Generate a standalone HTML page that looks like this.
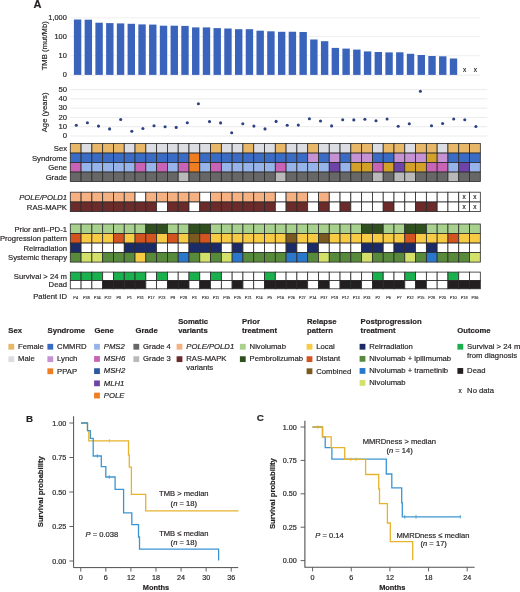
<!DOCTYPE html>
<html><head><meta charset="utf-8"><title>Figure</title>
<style>
html,body{margin:0;padding:0;background:#fff;}
body{width:520px;height:592px;overflow:hidden;}
svg{display:block;font-family:'Liberation Sans', Arial, sans-serif;}
text{stroke:#231f20;stroke-width:0.18px;paint-order:stroke;}
</style></head><body>
<svg width="520" height="592" viewBox="0 0 520 592">
<rect width="520" height="592" fill="#fff"/>
<text x="33.60" y="8.35" font-size="11" text-anchor="start" font-weight="bold" font-style="normal" fill="#231f20">A</text>
<rect x="70.3" y="17.30" width="410" height="1" fill="#efefef"/>
<rect x="70.3" y="36.10" width="410" height="1" fill="#efefef"/>
<rect x="70.3" y="55.20" width="410" height="1" fill="#efefef"/>
<rect x="70.3" y="74.7" width="410" height="1" fill="#ebebeb"/>
<text x="66.80" y="20.35" font-size="7.4" text-anchor="end" font-weight="normal" font-style="normal" fill="#231f20">1,000</text>
<text x="66.80" y="39.05" font-size="7.4" text-anchor="end" font-weight="normal" font-style="normal" fill="#231f20">100</text>
<text x="66.80" y="58.25" font-size="7.4" text-anchor="end" font-weight="normal" font-style="normal" fill="#231f20">10</text>
<text x="66.80" y="77.05" font-size="7.4" text-anchor="end" font-weight="normal" font-style="normal" fill="#231f20">0</text>
<text transform="translate(46.6,45.8) rotate(-90)" font-size="7.7" text-anchor="middle" fill="#231f20">TMB (mut/Mb)</text>
<rect x="73.90" y="19.50" width="7.4" height="55.40" fill="#3a63bc"/>
<rect x="84.64" y="19.70" width="7.4" height="55.20" fill="#3a63bc"/>
<rect x="95.38" y="22.70" width="7.4" height="52.20" fill="#3a63bc"/>
<rect x="106.12" y="23.10" width="7.4" height="51.80" fill="#3a63bc"/>
<rect x="116.86" y="23.40" width="7.4" height="51.50" fill="#3a63bc"/>
<rect x="127.60" y="23.80" width="7.4" height="51.10" fill="#3a63bc"/>
<rect x="138.34" y="24.40" width="7.4" height="50.50" fill="#3a63bc"/>
<rect x="149.08" y="24.60" width="7.4" height="50.30" fill="#3a63bc"/>
<rect x="159.82" y="25.70" width="7.4" height="49.20" fill="#3a63bc"/>
<rect x="170.56" y="25.70" width="7.4" height="49.20" fill="#3a63bc"/>
<rect x="181.30" y="25.90" width="7.4" height="49.00" fill="#3a63bc"/>
<rect x="192.04" y="27.40" width="7.4" height="47.50" fill="#3a63bc"/>
<rect x="202.78" y="27.40" width="7.4" height="47.50" fill="#3a63bc"/>
<rect x="213.52" y="28.10" width="7.4" height="46.80" fill="#3a63bc"/>
<rect x="224.26" y="28.50" width="7.4" height="46.40" fill="#3a63bc"/>
<rect x="235.00" y="29.20" width="7.4" height="45.70" fill="#3a63bc"/>
<rect x="245.74" y="29.20" width="7.4" height="45.70" fill="#3a63bc"/>
<rect x="256.48" y="30.70" width="7.4" height="44.20" fill="#3a63bc"/>
<rect x="267.22" y="31.30" width="7.4" height="43.60" fill="#3a63bc"/>
<rect x="277.96" y="31.80" width="7.4" height="43.10" fill="#3a63bc"/>
<rect x="288.70" y="31.75" width="7.4" height="43.15" fill="#3a63bc"/>
<rect x="299.44" y="32.00" width="7.4" height="42.90" fill="#3a63bc"/>
<rect x="310.18" y="39.50" width="7.4" height="35.40" fill="#3a63bc"/>
<rect x="320.92" y="41.20" width="7.4" height="33.70" fill="#3a63bc"/>
<rect x="331.66" y="47.90" width="7.4" height="27.00" fill="#3a63bc"/>
<rect x="342.40" y="48.60" width="7.4" height="26.30" fill="#3a63bc"/>
<rect x="353.14" y="49.60" width="7.4" height="25.30" fill="#3a63bc"/>
<rect x="363.88" y="51.40" width="7.4" height="23.50" fill="#3a63bc"/>
<rect x="374.62" y="52.00" width="7.4" height="22.90" fill="#3a63bc"/>
<rect x="385.36" y="52.40" width="7.4" height="22.50" fill="#3a63bc"/>
<rect x="396.10" y="52.30" width="7.4" height="22.60" fill="#3a63bc"/>
<rect x="406.84" y="53.80" width="7.4" height="21.10" fill="#3a63bc"/>
<rect x="417.58" y="55.00" width="7.4" height="19.90" fill="#3a63bc"/>
<rect x="428.32" y="56.00" width="7.4" height="18.90" fill="#3a63bc"/>
<rect x="439.06" y="56.30" width="7.4" height="18.60" fill="#3a63bc"/>
<rect x="449.80" y="58.50" width="7.4" height="16.40" fill="#3a63bc"/>
<text x="464.50" y="72.00" font-size="6.5" text-anchor="middle" font-weight="normal" font-style="normal" fill="#231f20">x</text>
<text x="475.30" y="72.00" font-size="6.5" text-anchor="middle" font-weight="normal" font-style="normal" fill="#231f20">x</text>
<rect x="70.3" y="135.50" width="417" height="1" fill="#ebebeb"/>
<text x="67.00" y="138.30" font-size="7.7" text-anchor="end" font-weight="normal" font-style="normal" fill="#231f20">0</text>
<rect x="70.3" y="126.22" width="417" height="1" fill="#ebebeb"/>
<text x="67.00" y="129.02" font-size="7.7" text-anchor="end" font-weight="normal" font-style="normal" fill="#231f20">10</text>
<rect x="70.3" y="116.94" width="417" height="1" fill="#ebebeb"/>
<text x="67.00" y="119.74" font-size="7.7" text-anchor="end" font-weight="normal" font-style="normal" fill="#231f20">20</text>
<rect x="70.3" y="107.66" width="417" height="1" fill="#ebebeb"/>
<text x="67.00" y="110.46" font-size="7.7" text-anchor="end" font-weight="normal" font-style="normal" fill="#231f20">30</text>
<rect x="70.3" y="98.38" width="417" height="1" fill="#ebebeb"/>
<text x="67.00" y="101.18" font-size="7.7" text-anchor="end" font-weight="normal" font-style="normal" fill="#231f20">40</text>
<rect x="70.3" y="89.10" width="417" height="1" fill="#ebebeb"/>
<text x="67.00" y="91.90" font-size="7.7" text-anchor="end" font-weight="normal" font-style="normal" fill="#231f20">50</text>
<text transform="translate(46.5,112.4) rotate(-90)" font-size="7.7" text-anchor="middle" fill="#231f20">Age (years)</text>
<circle cx="76.30" cy="125.30" r="1.55" fill="#2d4282"/>
<circle cx="87.40" cy="122.70" r="1.55" fill="#2d4282"/>
<circle cx="98.50" cy="126.10" r="1.55" fill="#2d4282"/>
<circle cx="109.60" cy="128.90" r="1.55" fill="#2d4282"/>
<circle cx="120.70" cy="119.50" r="1.55" fill="#2d4282"/>
<circle cx="131.80" cy="131.30" r="1.55" fill="#2d4282"/>
<circle cx="142.90" cy="128.50" r="1.55" fill="#2d4282"/>
<circle cx="154.00" cy="125.70" r="1.55" fill="#2d4282"/>
<circle cx="165.10" cy="126.80" r="1.55" fill="#2d4282"/>
<circle cx="176.20" cy="127.40" r="1.55" fill="#2d4282"/>
<circle cx="187.30" cy="122.70" r="1.55" fill="#2d4282"/>
<circle cx="198.40" cy="103.70" r="1.55" fill="#2d4282"/>
<circle cx="209.50" cy="121.60" r="1.55" fill="#2d4282"/>
<circle cx="220.60" cy="122.90" r="1.55" fill="#2d4282"/>
<circle cx="231.70" cy="132.80" r="1.55" fill="#2d4282"/>
<circle cx="242.80" cy="123.80" r="1.55" fill="#2d4282"/>
<circle cx="253.90" cy="126.10" r="1.55" fill="#2d4282"/>
<circle cx="265.00" cy="128.90" r="1.55" fill="#2d4282"/>
<circle cx="276.10" cy="121.40" r="1.55" fill="#2d4282"/>
<circle cx="287.20" cy="125.30" r="1.55" fill="#2d4282"/>
<circle cx="298.30" cy="125.10" r="1.55" fill="#2d4282"/>
<circle cx="309.40" cy="118.80" r="1.55" fill="#2d4282"/>
<circle cx="320.50" cy="121.00" r="1.55" fill="#2d4282"/>
<circle cx="331.60" cy="125.90" r="1.55" fill="#2d4282"/>
<circle cx="342.70" cy="119.70" r="1.55" fill="#2d4282"/>
<circle cx="353.80" cy="119.90" r="1.55" fill="#2d4282"/>
<circle cx="364.90" cy="119.20" r="1.55" fill="#2d4282"/>
<circle cx="376.00" cy="120.80" r="1.55" fill="#2d4282"/>
<circle cx="387.10" cy="119.00" r="1.55" fill="#2d4282"/>
<circle cx="398.20" cy="126.30" r="1.55" fill="#2d4282"/>
<circle cx="409.30" cy="123.80" r="1.55" fill="#2d4282"/>
<circle cx="420.40" cy="91.20" r="1.55" fill="#2d4282"/>
<circle cx="431.50" cy="125.80" r="1.55" fill="#2d4282"/>
<circle cx="442.60" cy="123.50" r="1.55" fill="#2d4282"/>
<circle cx="453.70" cy="119.00" r="1.55" fill="#2d4282"/>
<circle cx="464.80" cy="119.80" r="1.55" fill="#2d4282"/>
<circle cx="475.90" cy="126.50" r="1.55" fill="#2d4282"/>
<rect x="70.30" y="143.50" width="10.79" height="9.60" fill="#e8b868" stroke="#2a2a2a" stroke-width="0.8"/>
<rect x="81.09" y="143.50" width="10.79" height="9.60" fill="#dcdde2" stroke="#2a2a2a" stroke-width="0.8"/>
<rect x="91.88" y="143.50" width="10.79" height="9.60" fill="#e8b868" stroke="#2a2a2a" stroke-width="0.8"/>
<rect x="102.67" y="143.50" width="10.79" height="9.60" fill="#e8b868" stroke="#2a2a2a" stroke-width="0.8"/>
<rect x="113.46" y="143.50" width="10.79" height="9.60" fill="#e8b868" stroke="#2a2a2a" stroke-width="0.8"/>
<rect x="124.25" y="143.50" width="10.79" height="9.60" fill="#dcdde2" stroke="#2a2a2a" stroke-width="0.8"/>
<rect x="135.04" y="143.50" width="10.79" height="9.60" fill="#e8b868" stroke="#2a2a2a" stroke-width="0.8"/>
<rect x="145.83" y="143.50" width="10.79" height="9.60" fill="#dcdde2" stroke="#2a2a2a" stroke-width="0.8"/>
<rect x="156.62" y="143.50" width="10.79" height="9.60" fill="#dcdde2" stroke="#2a2a2a" stroke-width="0.8"/>
<rect x="167.41" y="143.50" width="10.79" height="9.60" fill="#dcdde2" stroke="#2a2a2a" stroke-width="0.8"/>
<rect x="178.20" y="143.50" width="10.79" height="9.60" fill="#dcdde2" stroke="#2a2a2a" stroke-width="0.8"/>
<rect x="188.99" y="143.50" width="10.79" height="9.60" fill="#dcdde2" stroke="#2a2a2a" stroke-width="0.8"/>
<rect x="199.78" y="143.50" width="10.79" height="9.60" fill="#dcdde2" stroke="#2a2a2a" stroke-width="0.8"/>
<rect x="210.57" y="143.50" width="10.79" height="9.60" fill="#e8b868" stroke="#2a2a2a" stroke-width="0.8"/>
<rect x="221.36" y="143.50" width="10.79" height="9.60" fill="#dcdde2" stroke="#2a2a2a" stroke-width="0.8"/>
<rect x="232.15" y="143.50" width="10.79" height="9.60" fill="#dcdde2" stroke="#2a2a2a" stroke-width="0.8"/>
<rect x="242.94" y="143.50" width="10.79" height="9.60" fill="#e8b868" stroke="#2a2a2a" stroke-width="0.8"/>
<rect x="253.73" y="143.50" width="10.79" height="9.60" fill="#dcdde2" stroke="#2a2a2a" stroke-width="0.8"/>
<rect x="264.52" y="143.50" width="10.79" height="9.60" fill="#dcdde2" stroke="#2a2a2a" stroke-width="0.8"/>
<rect x="275.31" y="143.50" width="10.79" height="9.60" fill="#e8b868" stroke="#2a2a2a" stroke-width="0.8"/>
<rect x="286.10" y="143.50" width="10.79" height="9.60" fill="#dcdde2" stroke="#2a2a2a" stroke-width="0.8"/>
<rect x="296.89" y="143.50" width="10.79" height="9.60" fill="#dcdde2" stroke="#2a2a2a" stroke-width="0.8"/>
<rect x="307.68" y="143.50" width="10.79" height="9.60" fill="#e8b868" stroke="#2a2a2a" stroke-width="0.8"/>
<rect x="318.47" y="143.50" width="10.79" height="9.60" fill="#dcdde2" stroke="#2a2a2a" stroke-width="0.8"/>
<rect x="329.26" y="143.50" width="10.79" height="9.60" fill="#dcdde2" stroke="#2a2a2a" stroke-width="0.8"/>
<rect x="340.05" y="143.50" width="10.79" height="9.60" fill="#dcdde2" stroke="#2a2a2a" stroke-width="0.8"/>
<rect x="350.84" y="143.50" width="10.79" height="9.60" fill="#e8b868" stroke="#2a2a2a" stroke-width="0.8"/>
<rect x="361.63" y="143.50" width="10.79" height="9.60" fill="#e8b868" stroke="#2a2a2a" stroke-width="0.8"/>
<rect x="372.42" y="143.50" width="10.79" height="9.60" fill="#dcdde2" stroke="#2a2a2a" stroke-width="0.8"/>
<rect x="383.21" y="143.50" width="10.79" height="9.60" fill="#e8b868" stroke="#2a2a2a" stroke-width="0.8"/>
<rect x="394.00" y="143.50" width="10.79" height="9.60" fill="#e8b868" stroke="#2a2a2a" stroke-width="0.8"/>
<rect x="404.79" y="143.50" width="10.79" height="9.60" fill="#dcdde2" stroke="#2a2a2a" stroke-width="0.8"/>
<rect x="415.58" y="143.50" width="10.79" height="9.60" fill="#e8b868" stroke="#2a2a2a" stroke-width="0.8"/>
<rect x="426.37" y="143.50" width="10.79" height="9.60" fill="#e8b868" stroke="#2a2a2a" stroke-width="0.8"/>
<rect x="437.16" y="143.50" width="10.79" height="9.60" fill="#dcdde2" stroke="#2a2a2a" stroke-width="0.8"/>
<rect x="447.95" y="143.50" width="10.79" height="9.60" fill="#e8b868" stroke="#2a2a2a" stroke-width="0.8"/>
<rect x="458.74" y="143.50" width="10.79" height="9.60" fill="#e8b868" stroke="#2a2a2a" stroke-width="0.8"/>
<rect x="469.53" y="143.50" width="10.79" height="9.60" fill="#e8b868" stroke="#2a2a2a" stroke-width="0.8"/>
<text x="67.00" y="151.05" font-size="7.7" text-anchor="end" font-weight="normal" font-style="normal" fill="#231f20">Sex</text>
<rect x="70.30" y="153.10" width="10.79" height="9.40" fill="#3b6cc5" stroke="#2a2a2a" stroke-width="0.8"/>
<rect x="81.09" y="153.10" width="10.79" height="9.40" fill="#3b6cc5" stroke="#2a2a2a" stroke-width="0.8"/>
<rect x="91.88" y="153.10" width="10.79" height="9.40" fill="#3b6cc5" stroke="#2a2a2a" stroke-width="0.8"/>
<rect x="102.67" y="153.10" width="10.79" height="9.40" fill="#3b6cc5" stroke="#2a2a2a" stroke-width="0.8"/>
<rect x="113.46" y="153.10" width="10.79" height="9.40" fill="#3b6cc5" stroke="#2a2a2a" stroke-width="0.8"/>
<rect x="124.25" y="153.10" width="10.79" height="9.40" fill="#3b6cc5" stroke="#2a2a2a" stroke-width="0.8"/>
<rect x="135.04" y="153.10" width="10.79" height="9.40" fill="#3b6cc5" stroke="#2a2a2a" stroke-width="0.8"/>
<rect x="145.83" y="153.10" width="10.79" height="9.40" fill="#3b6cc5" stroke="#2a2a2a" stroke-width="0.8"/>
<rect x="156.62" y="153.10" width="10.79" height="9.40" fill="#3b6cc5" stroke="#2a2a2a" stroke-width="0.8"/>
<rect x="167.41" y="153.10" width="10.79" height="9.40" fill="#3b6cc5" stroke="#2a2a2a" stroke-width="0.8"/>
<rect x="178.20" y="153.10" width="10.79" height="9.40" fill="#3b6cc5" stroke="#2a2a2a" stroke-width="0.8"/>
<rect x="188.99" y="153.10" width="10.79" height="9.40" fill="#ef7e22" stroke="#2a2a2a" stroke-width="0.8"/>
<rect x="199.78" y="153.10" width="10.79" height="9.40" fill="#3b6cc5" stroke="#2a2a2a" stroke-width="0.8"/>
<rect x="210.57" y="153.10" width="10.79" height="9.40" fill="#3b6cc5" stroke="#2a2a2a" stroke-width="0.8"/>
<rect x="221.36" y="153.10" width="10.79" height="9.40" fill="#3b6cc5" stroke="#2a2a2a" stroke-width="0.8"/>
<rect x="232.15" y="153.10" width="10.79" height="9.40" fill="#3b6cc5" stroke="#2a2a2a" stroke-width="0.8"/>
<rect x="242.94" y="153.10" width="10.79" height="9.40" fill="#3b6cc5" stroke="#2a2a2a" stroke-width="0.8"/>
<rect x="253.73" y="153.10" width="10.79" height="9.40" fill="#3b6cc5" stroke="#2a2a2a" stroke-width="0.8"/>
<rect x="264.52" y="153.10" width="10.79" height="9.40" fill="#3b6cc5" stroke="#2a2a2a" stroke-width="0.8"/>
<rect x="275.31" y="153.10" width="10.79" height="9.40" fill="#3b6cc5" stroke="#2a2a2a" stroke-width="0.8"/>
<rect x="286.10" y="153.10" width="10.79" height="9.40" fill="#3b6cc5" stroke="#2a2a2a" stroke-width="0.8"/>
<rect x="296.89" y="153.10" width="10.79" height="9.40" fill="#3b6cc5" stroke="#2a2a2a" stroke-width="0.8"/>
<rect x="307.68" y="153.10" width="10.79" height="9.40" fill="#c592d4" stroke="#2a2a2a" stroke-width="0.8"/>
<rect x="318.47" y="153.10" width="10.79" height="9.40" fill="#3b6cc5" stroke="#2a2a2a" stroke-width="0.8"/>
<rect x="329.26" y="153.10" width="10.79" height="9.40" fill="#c592d4" stroke="#2a2a2a" stroke-width="0.8"/>
<rect x="340.05" y="153.10" width="10.79" height="9.40" fill="#3b6cc5" stroke="#2a2a2a" stroke-width="0.8"/>
<rect x="350.84" y="153.10" width="10.79" height="9.40" fill="#c592d4" stroke="#2a2a2a" stroke-width="0.8"/>
<rect x="361.63" y="153.10" width="10.79" height="9.40" fill="#c592d4" stroke="#2a2a2a" stroke-width="0.8"/>
<rect x="372.42" y="153.10" width="10.79" height="9.40" fill="#3b6cc5" stroke="#2a2a2a" stroke-width="0.8"/>
<rect x="383.21" y="153.10" width="10.79" height="9.40" fill="#3b6cc5" stroke="#2a2a2a" stroke-width="0.8"/>
<rect x="394.00" y="153.10" width="10.79" height="9.40" fill="#c592d4" stroke="#2a2a2a" stroke-width="0.8"/>
<rect x="404.79" y="153.10" width="10.79" height="9.40" fill="#c592d4" stroke="#2a2a2a" stroke-width="0.8"/>
<rect x="415.58" y="153.10" width="10.79" height="9.40" fill="#c592d4" stroke="#2a2a2a" stroke-width="0.8"/>
<rect x="426.37" y="153.10" width="10.79" height="9.40" fill="#d3a02a" stroke="#2a2a2a" stroke-width="0.8"/>
<rect x="437.16" y="153.10" width="10.79" height="9.40" fill="#c592d4" stroke="#2a2a2a" stroke-width="0.8"/>
<rect x="447.95" y="153.10" width="10.79" height="9.40" fill="#3b6cc5" stroke="#2a2a2a" stroke-width="0.8"/>
<rect x="458.74" y="153.10" width="10.79" height="9.40" fill="#3b6cc5" stroke="#2a2a2a" stroke-width="0.8"/>
<rect x="469.53" y="153.10" width="10.79" height="9.40" fill="#3b6cc5" stroke="#2a2a2a" stroke-width="0.8"/>
<text x="67.00" y="160.55" font-size="7.7" text-anchor="end" font-weight="normal" font-style="normal" fill="#231f20">Syndrome</text>
<rect x="70.30" y="162.50" width="10.79" height="9.60" fill="#c863b6" stroke="#2a2a2a" stroke-width="0.8"/>
<rect x="81.09" y="162.50" width="10.79" height="9.60" fill="#97b4ea" stroke="#2a2a2a" stroke-width="0.8"/>
<rect x="91.88" y="162.50" width="10.79" height="9.60" fill="#97b4ea" stroke="#2a2a2a" stroke-width="0.8"/>
<rect x="102.67" y="162.50" width="10.79" height="9.60" fill="#97b4ea" stroke="#2a2a2a" stroke-width="0.8"/>
<rect x="113.46" y="162.50" width="10.79" height="9.60" fill="#97b4ea" stroke="#2a2a2a" stroke-width="0.8"/>
<rect x="124.25" y="162.50" width="10.79" height="9.60" fill="#97b4ea" stroke="#2a2a2a" stroke-width="0.8"/>
<rect x="135.04" y="162.50" width="10.79" height="9.60" fill="#c863b6" stroke="#2a2a2a" stroke-width="0.8"/>
<rect x="145.83" y="162.50" width="10.79" height="9.60" fill="#97b4ea" stroke="#2a2a2a" stroke-width="0.8"/>
<rect x="156.62" y="162.50" width="10.79" height="9.60" fill="#c863b6" stroke="#2a2a2a" stroke-width="0.8"/>
<rect x="167.41" y="162.50" width="10.79" height="9.60" fill="#97b4ea" stroke="#2a2a2a" stroke-width="0.8"/>
<rect x="178.20" y="162.50" width="10.79" height="9.60" fill="#c863b6" stroke="#2a2a2a" stroke-width="0.8"/>
<rect x="188.99" y="162.50" width="10.79" height="9.60" fill="#ef7e22" stroke="#2a2a2a" stroke-width="0.8"/>
<rect x="199.78" y="162.50" width="10.79" height="9.60" fill="#97b4ea" stroke="#2a2a2a" stroke-width="0.8"/>
<rect x="210.57" y="162.50" width="10.79" height="9.60" fill="#c863b6" stroke="#2a2a2a" stroke-width="0.8"/>
<rect x="221.36" y="162.50" width="10.79" height="9.60" fill="#97b4ea" stroke="#2a2a2a" stroke-width="0.8"/>
<rect x="232.15" y="162.50" width="10.79" height="9.60" fill="#97b4ea" stroke="#2a2a2a" stroke-width="0.8"/>
<rect x="242.94" y="162.50" width="10.79" height="9.60" fill="#97b4ea" stroke="#2a2a2a" stroke-width="0.8"/>
<rect x="253.73" y="162.50" width="10.79" height="9.60" fill="#97b4ea" stroke="#2a2a2a" stroke-width="0.8"/>
<rect x="264.52" y="162.50" width="10.79" height="9.60" fill="#97b4ea" stroke="#2a2a2a" stroke-width="0.8"/>
<rect x="275.31" y="162.50" width="10.79" height="9.60" fill="#c863b6" stroke="#2a2a2a" stroke-width="0.8"/>
<rect x="286.10" y="162.50" width="10.79" height="9.60" fill="#97b4ea" stroke="#2a2a2a" stroke-width="0.8"/>
<rect x="296.89" y="162.50" width="10.79" height="9.60" fill="#97b4ea" stroke="#2a2a2a" stroke-width="0.8"/>
<rect x="307.68" y="162.50" width="10.79" height="9.60" fill="#97b4ea" stroke="#2a2a2a" stroke-width="0.8"/>
<rect x="318.47" y="162.50" width="10.79" height="9.60" fill="#97b4ea" stroke="#2a2a2a" stroke-width="0.8"/>
<rect x="329.26" y="162.50" width="10.79" height="9.60" fill="#6f44a8" stroke="#2a2a2a" stroke-width="0.8"/>
<rect x="340.05" y="162.50" width="10.79" height="9.60" fill="#97b4ea" stroke="#2a2a2a" stroke-width="0.8"/>
<rect x="350.84" y="162.50" width="10.79" height="9.60" fill="#d3a02a" stroke="#2a2a2a" stroke-width="0.8"/>
<rect x="361.63" y="162.50" width="10.79" height="9.60" fill="#d3a02a" stroke="#2a2a2a" stroke-width="0.8"/>
<rect x="372.42" y="162.50" width="10.79" height="9.60" fill="#c863b6" stroke="#2a2a2a" stroke-width="0.8"/>
<rect x="383.21" y="162.50" width="10.79" height="9.60" fill="#d3a02a" stroke="#2a2a2a" stroke-width="0.8"/>
<rect x="394.00" y="162.50" width="10.79" height="9.60" fill="#6f44a8" stroke="#2a2a2a" stroke-width="0.8"/>
<rect x="404.79" y="162.50" width="10.79" height="9.60" fill="#d3a02a" stroke="#2a2a2a" stroke-width="0.8"/>
<rect x="415.58" y="162.50" width="10.79" height="9.60" fill="#d3a02a" stroke="#2a2a2a" stroke-width="0.8"/>
<rect x="426.37" y="162.50" width="10.79" height="9.60" fill="#c863b6" stroke="#2a2a2a" stroke-width="0.8"/>
<rect x="437.16" y="162.50" width="10.79" height="9.60" fill="#c863b6" stroke="#2a2a2a" stroke-width="0.8"/>
<rect x="447.95" y="162.50" width="10.79" height="9.60" fill="#97b4ea" stroke="#2a2a2a" stroke-width="0.8"/>
<rect x="458.74" y="162.50" width="10.79" height="9.60" fill="#6f44a8" stroke="#2a2a2a" stroke-width="0.8"/>
<rect x="469.53" y="162.50" width="10.79" height="9.60" fill="#97b4ea" stroke="#2a2a2a" stroke-width="0.8"/>
<text x="67.00" y="170.05" font-size="7.7" text-anchor="end" font-weight="normal" font-style="normal" fill="#231f20">Gene</text>
<rect x="70.30" y="172.10" width="10.79" height="9.40" fill="#676767" stroke="#2a2a2a" stroke-width="0.8"/>
<rect x="81.09" y="172.10" width="10.79" height="9.40" fill="#676767" stroke="#2a2a2a" stroke-width="0.8"/>
<rect x="91.88" y="172.10" width="10.79" height="9.40" fill="#676767" stroke="#2a2a2a" stroke-width="0.8"/>
<rect x="102.67" y="172.10" width="10.79" height="9.40" fill="#676767" stroke="#2a2a2a" stroke-width="0.8"/>
<rect x="113.46" y="172.10" width="10.79" height="9.40" fill="#676767" stroke="#2a2a2a" stroke-width="0.8"/>
<rect x="124.25" y="172.10" width="10.79" height="9.40" fill="#676767" stroke="#2a2a2a" stroke-width="0.8"/>
<rect x="135.04" y="172.10" width="10.79" height="9.40" fill="#676767" stroke="#2a2a2a" stroke-width="0.8"/>
<rect x="145.83" y="172.10" width="10.79" height="9.40" fill="#676767" stroke="#2a2a2a" stroke-width="0.8"/>
<rect x="156.62" y="172.10" width="10.79" height="9.40" fill="#676767" stroke="#2a2a2a" stroke-width="0.8"/>
<rect x="167.41" y="172.10" width="10.79" height="9.40" fill="#676767" stroke="#2a2a2a" stroke-width="0.8"/>
<rect x="178.20" y="172.10" width="10.79" height="9.40" fill="#b9b9b9" stroke="#2a2a2a" stroke-width="0.8"/>
<rect x="188.99" y="172.10" width="10.79" height="9.40" fill="#676767" stroke="#2a2a2a" stroke-width="0.8"/>
<rect x="199.78" y="172.10" width="10.79" height="9.40" fill="#676767" stroke="#2a2a2a" stroke-width="0.8"/>
<rect x="210.57" y="172.10" width="10.79" height="9.40" fill="#676767" stroke="#2a2a2a" stroke-width="0.8"/>
<rect x="221.36" y="172.10" width="10.79" height="9.40" fill="#676767" stroke="#2a2a2a" stroke-width="0.8"/>
<rect x="232.15" y="172.10" width="10.79" height="9.40" fill="#676767" stroke="#2a2a2a" stroke-width="0.8"/>
<rect x="242.94" y="172.10" width="10.79" height="9.40" fill="#676767" stroke="#2a2a2a" stroke-width="0.8"/>
<rect x="253.73" y="172.10" width="10.79" height="9.40" fill="#676767" stroke="#2a2a2a" stroke-width="0.8"/>
<rect x="264.52" y="172.10" width="10.79" height="9.40" fill="#676767" stroke="#2a2a2a" stroke-width="0.8"/>
<rect x="275.31" y="172.10" width="10.79" height="9.40" fill="#b9b9b9" stroke="#2a2a2a" stroke-width="0.8"/>
<rect x="286.10" y="172.10" width="10.79" height="9.40" fill="#676767" stroke="#2a2a2a" stroke-width="0.8"/>
<rect x="296.89" y="172.10" width="10.79" height="9.40" fill="#676767" stroke="#2a2a2a" stroke-width="0.8"/>
<rect x="307.68" y="172.10" width="10.79" height="9.40" fill="#676767" stroke="#2a2a2a" stroke-width="0.8"/>
<rect x="318.47" y="172.10" width="10.79" height="9.40" fill="#676767" stroke="#2a2a2a" stroke-width="0.8"/>
<rect x="329.26" y="172.10" width="10.79" height="9.40" fill="#676767" stroke="#2a2a2a" stroke-width="0.8"/>
<rect x="340.05" y="172.10" width="10.79" height="9.40" fill="#676767" stroke="#2a2a2a" stroke-width="0.8"/>
<rect x="350.84" y="172.10" width="10.79" height="9.40" fill="#676767" stroke="#2a2a2a" stroke-width="0.8"/>
<rect x="361.63" y="172.10" width="10.79" height="9.40" fill="#676767" stroke="#2a2a2a" stroke-width="0.8"/>
<rect x="372.42" y="172.10" width="10.79" height="9.40" fill="#b9b9b9" stroke="#2a2a2a" stroke-width="0.8"/>
<rect x="383.21" y="172.10" width="10.79" height="9.40" fill="#676767" stroke="#2a2a2a" stroke-width="0.8"/>
<rect x="394.00" y="172.10" width="10.79" height="9.40" fill="#b9b9b9" stroke="#2a2a2a" stroke-width="0.8"/>
<rect x="404.79" y="172.10" width="10.79" height="9.40" fill="#b9b9b9" stroke="#2a2a2a" stroke-width="0.8"/>
<rect x="415.58" y="172.10" width="10.79" height="9.40" fill="#676767" stroke="#2a2a2a" stroke-width="0.8"/>
<rect x="426.37" y="172.10" width="10.79" height="9.40" fill="#676767" stroke="#2a2a2a" stroke-width="0.8"/>
<rect x="437.16" y="172.10" width="10.79" height="9.40" fill="#676767" stroke="#2a2a2a" stroke-width="0.8"/>
<rect x="447.95" y="172.10" width="10.79" height="9.40" fill="#b9b9b9" stroke="#2a2a2a" stroke-width="0.8"/>
<rect x="458.74" y="172.10" width="10.79" height="9.40" fill="#676767" stroke="#2a2a2a" stroke-width="0.8"/>
<rect x="469.53" y="172.10" width="10.79" height="9.40" fill="#676767" stroke="#2a2a2a" stroke-width="0.8"/>
<text x="67.00" y="179.55" font-size="7.7" text-anchor="end" font-weight="normal" font-style="normal" fill="#231f20">Grade</text>
<rect x="70.30" y="192.20" width="10.79" height="9.80" fill="#f6b183" stroke="#2a2a2a" stroke-width="0.8"/>
<rect x="81.09" y="192.20" width="10.79" height="9.80" fill="#f6b183" stroke="#2a2a2a" stroke-width="0.8"/>
<rect x="91.88" y="192.20" width="10.79" height="9.80" fill="#f6b183" stroke="#2a2a2a" stroke-width="0.8"/>
<rect x="102.67" y="192.20" width="10.79" height="9.80" fill="#f6b183" stroke="#2a2a2a" stroke-width="0.8"/>
<rect x="113.46" y="192.20" width="10.79" height="9.80" fill="#f6b183" stroke="#2a2a2a" stroke-width="0.8"/>
<rect x="124.25" y="192.20" width="10.79" height="9.80" fill="#f6b183" stroke="#2a2a2a" stroke-width="0.8"/>
<rect x="135.04" y="192.20" width="10.79" height="9.80" fill="#ffffff" stroke="#2a2a2a" stroke-width="0.8"/>
<rect x="145.83" y="192.20" width="10.79" height="9.80" fill="#f6b183" stroke="#2a2a2a" stroke-width="0.8"/>
<rect x="156.62" y="192.20" width="10.79" height="9.80" fill="#f6b183" stroke="#2a2a2a" stroke-width="0.8"/>
<rect x="167.41" y="192.20" width="10.79" height="9.80" fill="#f6b183" stroke="#2a2a2a" stroke-width="0.8"/>
<rect x="178.20" y="192.20" width="10.79" height="9.80" fill="#f6b183" stroke="#2a2a2a" stroke-width="0.8"/>
<rect x="188.99" y="192.20" width="10.79" height="9.80" fill="#f6b183" stroke="#2a2a2a" stroke-width="0.8"/>
<rect x="199.78" y="192.20" width="10.79" height="9.80" fill="#ffffff" stroke="#2a2a2a" stroke-width="0.8"/>
<rect x="210.57" y="192.20" width="10.79" height="9.80" fill="#f6b183" stroke="#2a2a2a" stroke-width="0.8"/>
<rect x="221.36" y="192.20" width="10.79" height="9.80" fill="#f6b183" stroke="#2a2a2a" stroke-width="0.8"/>
<rect x="232.15" y="192.20" width="10.79" height="9.80" fill="#f6b183" stroke="#2a2a2a" stroke-width="0.8"/>
<rect x="242.94" y="192.20" width="10.79" height="9.80" fill="#f6b183" stroke="#2a2a2a" stroke-width="0.8"/>
<rect x="253.73" y="192.20" width="10.79" height="9.80" fill="#f6b183" stroke="#2a2a2a" stroke-width="0.8"/>
<rect x="264.52" y="192.20" width="10.79" height="9.80" fill="#f6b183" stroke="#2a2a2a" stroke-width="0.8"/>
<rect x="275.31" y="192.20" width="10.79" height="9.80" fill="#ffffff" stroke="#2a2a2a" stroke-width="0.8"/>
<rect x="286.10" y="192.20" width="10.79" height="9.80" fill="#f6b183" stroke="#2a2a2a" stroke-width="0.8"/>
<rect x="296.89" y="192.20" width="10.79" height="9.80" fill="#f6b183" stroke="#2a2a2a" stroke-width="0.8"/>
<rect x="307.68" y="192.20" width="10.79" height="9.80" fill="#ffffff" stroke="#2a2a2a" stroke-width="0.8"/>
<rect x="318.47" y="192.20" width="10.79" height="9.80" fill="#f6b183" stroke="#2a2a2a" stroke-width="0.8"/>
<rect x="329.26" y="192.20" width="10.79" height="9.80" fill="#ffffff" stroke="#2a2a2a" stroke-width="0.8"/>
<rect x="340.05" y="192.20" width="10.79" height="9.80" fill="#ffffff" stroke="#2a2a2a" stroke-width="0.8"/>
<rect x="350.84" y="192.20" width="10.79" height="9.80" fill="#ffffff" stroke="#2a2a2a" stroke-width="0.8"/>
<rect x="361.63" y="192.20" width="10.79" height="9.80" fill="#ffffff" stroke="#2a2a2a" stroke-width="0.8"/>
<rect x="372.42" y="192.20" width="10.79" height="9.80" fill="#ffffff" stroke="#2a2a2a" stroke-width="0.8"/>
<rect x="383.21" y="192.20" width="10.79" height="9.80" fill="#ffffff" stroke="#2a2a2a" stroke-width="0.8"/>
<rect x="394.00" y="192.20" width="10.79" height="9.80" fill="#ffffff" stroke="#2a2a2a" stroke-width="0.8"/>
<rect x="404.79" y="192.20" width="10.79" height="9.80" fill="#ffffff" stroke="#2a2a2a" stroke-width="0.8"/>
<rect x="415.58" y="192.20" width="10.79" height="9.80" fill="#ffffff" stroke="#2a2a2a" stroke-width="0.8"/>
<rect x="426.37" y="192.20" width="10.79" height="9.80" fill="#ffffff" stroke="#2a2a2a" stroke-width="0.8"/>
<rect x="437.16" y="192.20" width="10.79" height="9.80" fill="#ffffff" stroke="#2a2a2a" stroke-width="0.8"/>
<rect x="447.95" y="192.20" width="10.79" height="9.80" fill="#ffffff" stroke="#2a2a2a" stroke-width="0.8"/>
<rect x="458.74" y="192.20" width="10.79" height="9.80" fill="#ffffff" stroke="#2a2a2a" stroke-width="0.8"/>
<text x="464.13" y="199.10" font-size="6.5" text-anchor="middle" font-weight="normal" font-style="normal" fill="#231f20">x</text>
<rect x="469.53" y="192.20" width="10.79" height="9.80" fill="#ffffff" stroke="#2a2a2a" stroke-width="0.8"/>
<text x="474.92" y="199.10" font-size="6.5" text-anchor="middle" font-weight="normal" font-style="normal" fill="#231f20">x</text>
<text x="67.00" y="199.85" font-size="7.7" text-anchor="end" font-weight="normal" font-style="italic" fill="#231f20">POLE/POLD1</text>
<rect x="70.30" y="202.00" width="10.79" height="9.60" fill="#6b2b2b" stroke="#2a2a2a" stroke-width="0.8"/>
<rect x="81.09" y="202.00" width="10.79" height="9.60" fill="#6b2b2b" stroke="#2a2a2a" stroke-width="0.8"/>
<rect x="91.88" y="202.00" width="10.79" height="9.60" fill="#6b2b2b" stroke="#2a2a2a" stroke-width="0.8"/>
<rect x="102.67" y="202.00" width="10.79" height="9.60" fill="#6b2b2b" stroke="#2a2a2a" stroke-width="0.8"/>
<rect x="113.46" y="202.00" width="10.79" height="9.60" fill="#6b2b2b" stroke="#2a2a2a" stroke-width="0.8"/>
<rect x="124.25" y="202.00" width="10.79" height="9.60" fill="#6b2b2b" stroke="#2a2a2a" stroke-width="0.8"/>
<rect x="135.04" y="202.00" width="10.79" height="9.60" fill="#6b2b2b" stroke="#2a2a2a" stroke-width="0.8"/>
<rect x="145.83" y="202.00" width="10.79" height="9.60" fill="#6b2b2b" stroke="#2a2a2a" stroke-width="0.8"/>
<rect x="156.62" y="202.00" width="10.79" height="9.60" fill="#ffffff" stroke="#2a2a2a" stroke-width="0.8"/>
<rect x="167.41" y="202.00" width="10.79" height="9.60" fill="#6b2b2b" stroke="#2a2a2a" stroke-width="0.8"/>
<rect x="178.20" y="202.00" width="10.79" height="9.60" fill="#6b2b2b" stroke="#2a2a2a" stroke-width="0.8"/>
<rect x="188.99" y="202.00" width="10.79" height="9.60" fill="#ffffff" stroke="#2a2a2a" stroke-width="0.8"/>
<rect x="199.78" y="202.00" width="10.79" height="9.60" fill="#6b2b2b" stroke="#2a2a2a" stroke-width="0.8"/>
<rect x="210.57" y="202.00" width="10.79" height="9.60" fill="#6b2b2b" stroke="#2a2a2a" stroke-width="0.8"/>
<rect x="221.36" y="202.00" width="10.79" height="9.60" fill="#6b2b2b" stroke="#2a2a2a" stroke-width="0.8"/>
<rect x="232.15" y="202.00" width="10.79" height="9.60" fill="#6b2b2b" stroke="#2a2a2a" stroke-width="0.8"/>
<rect x="242.94" y="202.00" width="10.79" height="9.60" fill="#6b2b2b" stroke="#2a2a2a" stroke-width="0.8"/>
<rect x="253.73" y="202.00" width="10.79" height="9.60" fill="#6b2b2b" stroke="#2a2a2a" stroke-width="0.8"/>
<rect x="264.52" y="202.00" width="10.79" height="9.60" fill="#6b2b2b" stroke="#2a2a2a" stroke-width="0.8"/>
<rect x="275.31" y="202.00" width="10.79" height="9.60" fill="#ffffff" stroke="#2a2a2a" stroke-width="0.8"/>
<rect x="286.10" y="202.00" width="10.79" height="9.60" fill="#6b2b2b" stroke="#2a2a2a" stroke-width="0.8"/>
<rect x="296.89" y="202.00" width="10.79" height="9.60" fill="#6b2b2b" stroke="#2a2a2a" stroke-width="0.8"/>
<rect x="307.68" y="202.00" width="10.79" height="9.60" fill="#ffffff" stroke="#2a2a2a" stroke-width="0.8"/>
<rect x="318.47" y="202.00" width="10.79" height="9.60" fill="#6b2b2b" stroke="#2a2a2a" stroke-width="0.8"/>
<rect x="329.26" y="202.00" width="10.79" height="9.60" fill="#ffffff" stroke="#2a2a2a" stroke-width="0.8"/>
<rect x="340.05" y="202.00" width="10.79" height="9.60" fill="#6b2b2b" stroke="#2a2a2a" stroke-width="0.8"/>
<rect x="350.84" y="202.00" width="10.79" height="9.60" fill="#ffffff" stroke="#2a2a2a" stroke-width="0.8"/>
<rect x="361.63" y="202.00" width="10.79" height="9.60" fill="#ffffff" stroke="#2a2a2a" stroke-width="0.8"/>
<rect x="372.42" y="202.00" width="10.79" height="9.60" fill="#ffffff" stroke="#2a2a2a" stroke-width="0.8"/>
<rect x="383.21" y="202.00" width="10.79" height="9.60" fill="#6b2b2b" stroke="#2a2a2a" stroke-width="0.8"/>
<rect x="394.00" y="202.00" width="10.79" height="9.60" fill="#ffffff" stroke="#2a2a2a" stroke-width="0.8"/>
<rect x="404.79" y="202.00" width="10.79" height="9.60" fill="#ffffff" stroke="#2a2a2a" stroke-width="0.8"/>
<rect x="415.58" y="202.00" width="10.79" height="9.60" fill="#6b2b2b" stroke="#2a2a2a" stroke-width="0.8"/>
<rect x="426.37" y="202.00" width="10.79" height="9.60" fill="#6b2b2b" stroke="#2a2a2a" stroke-width="0.8"/>
<rect x="437.16" y="202.00" width="10.79" height="9.60" fill="#ffffff" stroke="#2a2a2a" stroke-width="0.8"/>
<rect x="447.95" y="202.00" width="10.79" height="9.60" fill="#ffffff" stroke="#2a2a2a" stroke-width="0.8"/>
<rect x="458.74" y="202.00" width="10.79" height="9.60" fill="#ffffff" stroke="#2a2a2a" stroke-width="0.8"/>
<text x="464.13" y="208.80" font-size="6.5" text-anchor="middle" font-weight="normal" font-style="normal" fill="#231f20">x</text>
<rect x="469.53" y="202.00" width="10.79" height="9.60" fill="#ffffff" stroke="#2a2a2a" stroke-width="0.8"/>
<text x="474.92" y="208.80" font-size="6.5" text-anchor="middle" font-weight="normal" font-style="normal" fill="#231f20">x</text>
<text x="67.00" y="209.55" font-size="7.7" text-anchor="end" font-weight="normal" font-style="normal" fill="#231f20">RAS-MAPK</text>
<rect x="70.30" y="224.00" width="10.79" height="9.50" fill="#a9d18e" stroke="#2a2a2a" stroke-width="0.8"/>
<rect x="81.09" y="224.00" width="10.79" height="9.50" fill="#a9d18e" stroke="#2a2a2a" stroke-width="0.8"/>
<rect x="91.88" y="224.00" width="10.79" height="9.50" fill="#a9d18e" stroke="#2a2a2a" stroke-width="0.8"/>
<rect x="102.67" y="224.00" width="10.79" height="9.50" fill="#a9d18e" stroke="#2a2a2a" stroke-width="0.8"/>
<rect x="113.46" y="224.00" width="10.79" height="9.50" fill="#a9d18e" stroke="#2a2a2a" stroke-width="0.8"/>
<rect x="124.25" y="224.00" width="10.79" height="9.50" fill="#a9d18e" stroke="#2a2a2a" stroke-width="0.8"/>
<rect x="135.04" y="224.00" width="10.79" height="9.50" fill="#a9d18e" stroke="#2a2a2a" stroke-width="0.8"/>
<rect x="145.83" y="224.00" width="10.79" height="9.50" fill="#2f4f1f" stroke="#2a2a2a" stroke-width="0.8"/>
<rect x="156.62" y="224.00" width="10.79" height="9.50" fill="#2f4f1f" stroke="#2a2a2a" stroke-width="0.8"/>
<rect x="167.41" y="224.00" width="10.79" height="9.50" fill="#a9d18e" stroke="#2a2a2a" stroke-width="0.8"/>
<rect x="178.20" y="224.00" width="10.79" height="9.50" fill="#a9d18e" stroke="#2a2a2a" stroke-width="0.8"/>
<rect x="188.99" y="224.00" width="10.79" height="9.50" fill="#2f4f1f" stroke="#2a2a2a" stroke-width="0.8"/>
<rect x="199.78" y="224.00" width="10.79" height="9.50" fill="#2f4f1f" stroke="#2a2a2a" stroke-width="0.8"/>
<rect x="210.57" y="224.00" width="10.79" height="9.50" fill="#a9d18e" stroke="#2a2a2a" stroke-width="0.8"/>
<rect x="221.36" y="224.00" width="10.79" height="9.50" fill="#a9d18e" stroke="#2a2a2a" stroke-width="0.8"/>
<rect x="232.15" y="224.00" width="10.79" height="9.50" fill="#a9d18e" stroke="#2a2a2a" stroke-width="0.8"/>
<rect x="242.94" y="224.00" width="10.79" height="9.50" fill="#a9d18e" stroke="#2a2a2a" stroke-width="0.8"/>
<rect x="253.73" y="224.00" width="10.79" height="9.50" fill="#a9d18e" stroke="#2a2a2a" stroke-width="0.8"/>
<rect x="264.52" y="224.00" width="10.79" height="9.50" fill="#a9d18e" stroke="#2a2a2a" stroke-width="0.8"/>
<rect x="275.31" y="224.00" width="10.79" height="9.50" fill="#a9d18e" stroke="#2a2a2a" stroke-width="0.8"/>
<rect x="286.10" y="224.00" width="10.79" height="9.50" fill="#a9d18e" stroke="#2a2a2a" stroke-width="0.8"/>
<rect x="296.89" y="224.00" width="10.79" height="9.50" fill="#a9d18e" stroke="#2a2a2a" stroke-width="0.8"/>
<rect x="307.68" y="224.00" width="10.79" height="9.50" fill="#a9d18e" stroke="#2a2a2a" stroke-width="0.8"/>
<rect x="318.47" y="224.00" width="10.79" height="9.50" fill="#a9d18e" stroke="#2a2a2a" stroke-width="0.8"/>
<rect x="329.26" y="224.00" width="10.79" height="9.50" fill="#a9d18e" stroke="#2a2a2a" stroke-width="0.8"/>
<rect x="340.05" y="224.00" width="10.79" height="9.50" fill="#a9d18e" stroke="#2a2a2a" stroke-width="0.8"/>
<rect x="350.84" y="224.00" width="10.79" height="9.50" fill="#a9d18e" stroke="#2a2a2a" stroke-width="0.8"/>
<rect x="361.63" y="224.00" width="10.79" height="9.50" fill="#2f4f1f" stroke="#2a2a2a" stroke-width="0.8"/>
<rect x="372.42" y="224.00" width="10.79" height="9.50" fill="#2f4f1f" stroke="#2a2a2a" stroke-width="0.8"/>
<rect x="383.21" y="224.00" width="10.79" height="9.50" fill="#a9d18e" stroke="#2a2a2a" stroke-width="0.8"/>
<rect x="394.00" y="224.00" width="10.79" height="9.50" fill="#a9d18e" stroke="#2a2a2a" stroke-width="0.8"/>
<rect x="404.79" y="224.00" width="10.79" height="9.50" fill="#2f4f1f" stroke="#2a2a2a" stroke-width="0.8"/>
<rect x="415.58" y="224.00" width="10.79" height="9.50" fill="#2f4f1f" stroke="#2a2a2a" stroke-width="0.8"/>
<rect x="426.37" y="224.00" width="10.79" height="9.50" fill="#a9d18e" stroke="#2a2a2a" stroke-width="0.8"/>
<rect x="437.16" y="224.00" width="10.79" height="9.50" fill="#a9d18e" stroke="#2a2a2a" stroke-width="0.8"/>
<rect x="447.95" y="224.00" width="10.79" height="9.50" fill="#a9d18e" stroke="#2a2a2a" stroke-width="0.8"/>
<rect x="458.74" y="224.00" width="10.79" height="9.50" fill="#a9d18e" stroke="#2a2a2a" stroke-width="0.8"/>
<rect x="469.53" y="224.00" width="10.79" height="9.50" fill="#a9d18e" stroke="#2a2a2a" stroke-width="0.8"/>
<text x="67.00" y="231.50" font-size="7.7" text-anchor="end" font-weight="normal" font-style="normal" fill="#231f20">Prior anti–PD-1</text>
<rect x="70.30" y="233.50" width="10.79" height="9.60" fill="#d45420" stroke="#2a2a2a" stroke-width="0.8"/>
<rect x="81.09" y="233.50" width="10.79" height="9.60" fill="#f8cb45" stroke="#2a2a2a" stroke-width="0.8"/>
<rect x="91.88" y="233.50" width="10.79" height="9.60" fill="#f8cb45" stroke="#2a2a2a" stroke-width="0.8"/>
<rect x="102.67" y="233.50" width="10.79" height="9.60" fill="#f8cb45" stroke="#2a2a2a" stroke-width="0.8"/>
<rect x="113.46" y="233.50" width="10.79" height="9.60" fill="#d45420" stroke="#2a2a2a" stroke-width="0.8"/>
<rect x="124.25" y="233.50" width="10.79" height="9.60" fill="#f8cb45" stroke="#2a2a2a" stroke-width="0.8"/>
<rect x="135.04" y="233.50" width="10.79" height="9.60" fill="#d45420" stroke="#2a2a2a" stroke-width="0.8"/>
<rect x="145.83" y="233.50" width="10.79" height="9.60" fill="#d45420" stroke="#2a2a2a" stroke-width="0.8"/>
<rect x="156.62" y="233.50" width="10.79" height="9.60" fill="#f8cb45" stroke="#2a2a2a" stroke-width="0.8"/>
<rect x="167.41" y="233.50" width="10.79" height="9.60" fill="#d45420" stroke="#2a2a2a" stroke-width="0.8"/>
<rect x="178.20" y="233.50" width="10.79" height="9.60" fill="#f8cb45" stroke="#2a2a2a" stroke-width="0.8"/>
<rect x="188.99" y="233.50" width="10.79" height="9.60" fill="#7b5a20" stroke="#2a2a2a" stroke-width="0.8"/>
<rect x="199.78" y="233.50" width="10.79" height="9.60" fill="#d45420" stroke="#2a2a2a" stroke-width="0.8"/>
<rect x="210.57" y="233.50" width="10.79" height="9.60" fill="#f8cb45" stroke="#2a2a2a" stroke-width="0.8"/>
<rect x="221.36" y="233.50" width="10.79" height="9.60" fill="#f8cb45" stroke="#2a2a2a" stroke-width="0.8"/>
<rect x="232.15" y="233.50" width="10.79" height="9.60" fill="#f8cb45" stroke="#2a2a2a" stroke-width="0.8"/>
<rect x="242.94" y="233.50" width="10.79" height="9.60" fill="#f8cb45" stroke="#2a2a2a" stroke-width="0.8"/>
<rect x="253.73" y="233.50" width="10.79" height="9.60" fill="#f8cb45" stroke="#2a2a2a" stroke-width="0.8"/>
<rect x="264.52" y="233.50" width="10.79" height="9.60" fill="#f8cb45" stroke="#2a2a2a" stroke-width="0.8"/>
<rect x="275.31" y="233.50" width="10.79" height="9.60" fill="#f8cb45" stroke="#2a2a2a" stroke-width="0.8"/>
<rect x="286.10" y="233.50" width="10.79" height="9.60" fill="#7b5a20" stroke="#2a2a2a" stroke-width="0.8"/>
<rect x="296.89" y="233.50" width="10.79" height="9.60" fill="#f8cb45" stroke="#2a2a2a" stroke-width="0.8"/>
<rect x="307.68" y="233.50" width="10.79" height="9.60" fill="#f8cb45" stroke="#2a2a2a" stroke-width="0.8"/>
<rect x="318.47" y="233.50" width="10.79" height="9.60" fill="#7b5a20" stroke="#2a2a2a" stroke-width="0.8"/>
<rect x="329.26" y="233.50" width="10.79" height="9.60" fill="#f8cb45" stroke="#2a2a2a" stroke-width="0.8"/>
<rect x="340.05" y="233.50" width="10.79" height="9.60" fill="#f8cb45" stroke="#2a2a2a" stroke-width="0.8"/>
<rect x="350.84" y="233.50" width="10.79" height="9.60" fill="#f8cb45" stroke="#2a2a2a" stroke-width="0.8"/>
<rect x="361.63" y="233.50" width="10.79" height="9.60" fill="#f8cb45" stroke="#2a2a2a" stroke-width="0.8"/>
<rect x="372.42" y="233.50" width="10.79" height="9.60" fill="#f8cb45" stroke="#2a2a2a" stroke-width="0.8"/>
<rect x="383.21" y="233.50" width="10.79" height="9.60" fill="#f8cb45" stroke="#2a2a2a" stroke-width="0.8"/>
<rect x="394.00" y="233.50" width="10.79" height="9.60" fill="#f8cb45" stroke="#2a2a2a" stroke-width="0.8"/>
<rect x="404.79" y="233.50" width="10.79" height="9.60" fill="#d45420" stroke="#2a2a2a" stroke-width="0.8"/>
<rect x="415.58" y="233.50" width="10.79" height="9.60" fill="#f8cb45" stroke="#2a2a2a" stroke-width="0.8"/>
<rect x="426.37" y="233.50" width="10.79" height="9.60" fill="#f8cb45" stroke="#2a2a2a" stroke-width="0.8"/>
<rect x="437.16" y="233.50" width="10.79" height="9.60" fill="#f8cb45" stroke="#2a2a2a" stroke-width="0.8"/>
<rect x="447.95" y="233.50" width="10.79" height="9.60" fill="#d45420" stroke="#2a2a2a" stroke-width="0.8"/>
<rect x="458.74" y="233.50" width="10.79" height="9.60" fill="#f8cb45" stroke="#2a2a2a" stroke-width="0.8"/>
<rect x="469.53" y="233.50" width="10.79" height="9.60" fill="#f8cb45" stroke="#2a2a2a" stroke-width="0.8"/>
<text x="67.00" y="241.05" font-size="7.7" text-anchor="end" font-weight="normal" font-style="normal" fill="#231f20">Progression pattern</text>
<rect x="70.30" y="243.10" width="10.79" height="9.40" fill="#1a2b68" stroke="#2a2a2a" stroke-width="0.8"/>
<rect x="81.09" y="243.10" width="10.79" height="9.40" fill="#ffffff" stroke="#2a2a2a" stroke-width="0.8"/>
<rect x="91.88" y="243.10" width="10.79" height="9.40" fill="#ffffff" stroke="#2a2a2a" stroke-width="0.8"/>
<rect x="102.67" y="243.10" width="10.79" height="9.40" fill="#ffffff" stroke="#2a2a2a" stroke-width="0.8"/>
<rect x="113.46" y="243.10" width="10.79" height="9.40" fill="#ffffff" stroke="#2a2a2a" stroke-width="0.8"/>
<rect x="124.25" y="243.10" width="10.79" height="9.40" fill="#1a2b68" stroke="#2a2a2a" stroke-width="0.8"/>
<rect x="135.04" y="243.10" width="10.79" height="9.40" fill="#1a2b68" stroke="#2a2a2a" stroke-width="0.8"/>
<rect x="145.83" y="243.10" width="10.79" height="9.40" fill="#1a2b68" stroke="#2a2a2a" stroke-width="0.8"/>
<rect x="156.62" y="243.10" width="10.79" height="9.40" fill="#ffffff" stroke="#2a2a2a" stroke-width="0.8"/>
<rect x="167.41" y="243.10" width="10.79" height="9.40" fill="#ffffff" stroke="#2a2a2a" stroke-width="0.8"/>
<rect x="178.20" y="243.10" width="10.79" height="9.40" fill="#ffffff" stroke="#2a2a2a" stroke-width="0.8"/>
<rect x="188.99" y="243.10" width="10.79" height="9.40" fill="#1a2b68" stroke="#2a2a2a" stroke-width="0.8"/>
<rect x="199.78" y="243.10" width="10.79" height="9.40" fill="#1a2b68" stroke="#2a2a2a" stroke-width="0.8"/>
<rect x="210.57" y="243.10" width="10.79" height="9.40" fill="#1a2b68" stroke="#2a2a2a" stroke-width="0.8"/>
<rect x="221.36" y="243.10" width="10.79" height="9.40" fill="#ffffff" stroke="#2a2a2a" stroke-width="0.8"/>
<rect x="232.15" y="243.10" width="10.79" height="9.40" fill="#1a2b68" stroke="#2a2a2a" stroke-width="0.8"/>
<rect x="242.94" y="243.10" width="10.79" height="9.40" fill="#ffffff" stroke="#2a2a2a" stroke-width="0.8"/>
<rect x="253.73" y="243.10" width="10.79" height="9.40" fill="#ffffff" stroke="#2a2a2a" stroke-width="0.8"/>
<rect x="264.52" y="243.10" width="10.79" height="9.40" fill="#ffffff" stroke="#2a2a2a" stroke-width="0.8"/>
<rect x="275.31" y="243.10" width="10.79" height="9.40" fill="#ffffff" stroke="#2a2a2a" stroke-width="0.8"/>
<rect x="286.10" y="243.10" width="10.79" height="9.40" fill="#1a2b68" stroke="#2a2a2a" stroke-width="0.8"/>
<rect x="296.89" y="243.10" width="10.79" height="9.40" fill="#ffffff" stroke="#2a2a2a" stroke-width="0.8"/>
<rect x="307.68" y="243.10" width="10.79" height="9.40" fill="#1a2b68" stroke="#2a2a2a" stroke-width="0.8"/>
<rect x="318.47" y="243.10" width="10.79" height="9.40" fill="#ffffff" stroke="#2a2a2a" stroke-width="0.8"/>
<rect x="329.26" y="243.10" width="10.79" height="9.40" fill="#ffffff" stroke="#2a2a2a" stroke-width="0.8"/>
<rect x="340.05" y="243.10" width="10.79" height="9.40" fill="#ffffff" stroke="#2a2a2a" stroke-width="0.8"/>
<rect x="350.84" y="243.10" width="10.79" height="9.40" fill="#ffffff" stroke="#2a2a2a" stroke-width="0.8"/>
<rect x="361.63" y="243.10" width="10.79" height="9.40" fill="#1a2b68" stroke="#2a2a2a" stroke-width="0.8"/>
<rect x="372.42" y="243.10" width="10.79" height="9.40" fill="#1a2b68" stroke="#2a2a2a" stroke-width="0.8"/>
<rect x="383.21" y="243.10" width="10.79" height="9.40" fill="#ffffff" stroke="#2a2a2a" stroke-width="0.8"/>
<rect x="394.00" y="243.10" width="10.79" height="9.40" fill="#1a2b68" stroke="#2a2a2a" stroke-width="0.8"/>
<rect x="404.79" y="243.10" width="10.79" height="9.40" fill="#1a2b68" stroke="#2a2a2a" stroke-width="0.8"/>
<rect x="415.58" y="243.10" width="10.79" height="9.40" fill="#ffffff" stroke="#2a2a2a" stroke-width="0.8"/>
<rect x="426.37" y="243.10" width="10.79" height="9.40" fill="#1a2b68" stroke="#2a2a2a" stroke-width="0.8"/>
<rect x="437.16" y="243.10" width="10.79" height="9.40" fill="#ffffff" stroke="#2a2a2a" stroke-width="0.8"/>
<rect x="447.95" y="243.10" width="10.79" height="9.40" fill="#ffffff" stroke="#2a2a2a" stroke-width="0.8"/>
<rect x="458.74" y="243.10" width="10.79" height="9.40" fill="#ffffff" stroke="#2a2a2a" stroke-width="0.8"/>
<rect x="469.53" y="243.10" width="10.79" height="9.40" fill="#ffffff" stroke="#2a2a2a" stroke-width="0.8"/>
<text x="67.00" y="250.55" font-size="7.7" text-anchor="end" font-weight="normal" font-style="normal" fill="#231f20">Reirradiation</text>
<rect x="70.30" y="252.50" width="10.79" height="9.60" fill="#578a3a" stroke="#2a2a2a" stroke-width="0.8"/>
<rect x="81.09" y="252.50" width="10.79" height="9.60" fill="#d3e16b" stroke="#2a2a2a" stroke-width="0.8"/>
<rect x="91.88" y="252.50" width="10.79" height="9.60" fill="#d3e16b" stroke="#2a2a2a" stroke-width="0.8"/>
<rect x="102.67" y="252.50" width="10.79" height="9.60" fill="#578a3a" stroke="#2a2a2a" stroke-width="0.8"/>
<rect x="113.46" y="252.50" width="10.79" height="9.60" fill="#578a3a" stroke="#2a2a2a" stroke-width="0.8"/>
<rect x="124.25" y="252.50" width="10.79" height="9.60" fill="#578a3a" stroke="#2a2a2a" stroke-width="0.8"/>
<rect x="135.04" y="252.50" width="10.79" height="9.60" fill="#f8cb45" stroke="#2a2a2a" stroke-width="0.8"/>
<rect x="145.83" y="252.50" width="10.79" height="9.60" fill="#578a3a" stroke="#2a2a2a" stroke-width="0.8"/>
<rect x="156.62" y="252.50" width="10.79" height="9.60" fill="#578a3a" stroke="#2a2a2a" stroke-width="0.8"/>
<rect x="167.41" y="252.50" width="10.79" height="9.60" fill="#578a3a" stroke="#2a2a2a" stroke-width="0.8"/>
<rect x="178.20" y="252.50" width="10.79" height="9.60" fill="#2a78cc" stroke="#2a2a2a" stroke-width="0.8"/>
<rect x="188.99" y="252.50" width="10.79" height="9.60" fill="#578a3a" stroke="#2a2a2a" stroke-width="0.8"/>
<rect x="199.78" y="252.50" width="10.79" height="9.60" fill="#d3e16b" stroke="#2a2a2a" stroke-width="0.8"/>
<rect x="210.57" y="252.50" width="10.79" height="9.60" fill="#578a3a" stroke="#2a2a2a" stroke-width="0.8"/>
<rect x="221.36" y="252.50" width="10.79" height="9.60" fill="#d3e16b" stroke="#2a2a2a" stroke-width="0.8"/>
<rect x="232.15" y="252.50" width="10.79" height="9.60" fill="#2a78cc" stroke="#2a2a2a" stroke-width="0.8"/>
<rect x="242.94" y="252.50" width="10.79" height="9.60" fill="#578a3a" stroke="#2a2a2a" stroke-width="0.8"/>
<rect x="253.73" y="252.50" width="10.79" height="9.60" fill="#578a3a" stroke="#2a2a2a" stroke-width="0.8"/>
<rect x="264.52" y="252.50" width="10.79" height="9.60" fill="#578a3a" stroke="#2a2a2a" stroke-width="0.8"/>
<rect x="275.31" y="252.50" width="10.79" height="9.60" fill="#578a3a" stroke="#2a2a2a" stroke-width="0.8"/>
<rect x="286.10" y="252.50" width="10.79" height="9.60" fill="#2a78cc" stroke="#2a2a2a" stroke-width="0.8"/>
<rect x="296.89" y="252.50" width="10.79" height="9.60" fill="#2a78cc" stroke="#2a2a2a" stroke-width="0.8"/>
<rect x="307.68" y="252.50" width="10.79" height="9.60" fill="#578a3a" stroke="#2a2a2a" stroke-width="0.8"/>
<rect x="318.47" y="252.50" width="10.79" height="9.60" fill="#d3e16b" stroke="#2a2a2a" stroke-width="0.8"/>
<rect x="329.26" y="252.50" width="10.79" height="9.60" fill="#578a3a" stroke="#2a2a2a" stroke-width="0.8"/>
<rect x="340.05" y="252.50" width="10.79" height="9.60" fill="#578a3a" stroke="#2a2a2a" stroke-width="0.8"/>
<rect x="350.84" y="252.50" width="10.79" height="9.60" fill="#578a3a" stroke="#2a2a2a" stroke-width="0.8"/>
<rect x="361.63" y="252.50" width="10.79" height="9.60" fill="#d3e16b" stroke="#2a2a2a" stroke-width="0.8"/>
<rect x="372.42" y="252.50" width="10.79" height="9.60" fill="#578a3a" stroke="#2a2a2a" stroke-width="0.8"/>
<rect x="383.21" y="252.50" width="10.79" height="9.60" fill="#578a3a" stroke="#2a2a2a" stroke-width="0.8"/>
<rect x="394.00" y="252.50" width="10.79" height="9.60" fill="#578a3a" stroke="#2a2a2a" stroke-width="0.8"/>
<rect x="404.79" y="252.50" width="10.79" height="9.60" fill="#d3e16b" stroke="#2a2a2a" stroke-width="0.8"/>
<rect x="415.58" y="252.50" width="10.79" height="9.60" fill="#578a3a" stroke="#2a2a2a" stroke-width="0.8"/>
<rect x="426.37" y="252.50" width="10.79" height="9.60" fill="#2a78cc" stroke="#2a2a2a" stroke-width="0.8"/>
<rect x="437.16" y="252.50" width="10.79" height="9.60" fill="#578a3a" stroke="#2a2a2a" stroke-width="0.8"/>
<rect x="447.95" y="252.50" width="10.79" height="9.60" fill="#578a3a" stroke="#2a2a2a" stroke-width="0.8"/>
<rect x="458.74" y="252.50" width="10.79" height="9.60" fill="#578a3a" stroke="#2a2a2a" stroke-width="0.8"/>
<rect x="469.53" y="252.50" width="10.79" height="9.60" fill="#d3e16b" stroke="#2a2a2a" stroke-width="0.8"/>
<text x="67.00" y="260.05" font-size="7.7" text-anchor="end" font-weight="normal" font-style="normal" fill="#231f20">Systemic therapy</text>
<rect x="70.30" y="272.10" width="10.79" height="8.40" fill="#1bb04e" stroke="#2a2a2a" stroke-width="0.8"/>
<rect x="81.09" y="272.10" width="10.79" height="8.40" fill="#1bb04e" stroke="#2a2a2a" stroke-width="0.8"/>
<rect x="91.88" y="272.10" width="10.79" height="8.40" fill="#1bb04e" stroke="#2a2a2a" stroke-width="0.8"/>
<rect x="102.67" y="272.10" width="10.79" height="8.40" fill="#ffffff" stroke="#2a2a2a" stroke-width="0.8"/>
<rect x="113.46" y="272.10" width="10.79" height="8.40" fill="#1bb04e" stroke="#2a2a2a" stroke-width="0.8"/>
<rect x="124.25" y="272.10" width="10.79" height="8.40" fill="#1bb04e" stroke="#2a2a2a" stroke-width="0.8"/>
<rect x="135.04" y="272.10" width="10.79" height="8.40" fill="#1bb04e" stroke="#2a2a2a" stroke-width="0.8"/>
<rect x="145.83" y="272.10" width="10.79" height="8.40" fill="#ffffff" stroke="#2a2a2a" stroke-width="0.8"/>
<rect x="156.62" y="272.10" width="10.79" height="8.40" fill="#1bb04e" stroke="#2a2a2a" stroke-width="0.8"/>
<rect x="167.41" y="272.10" width="10.79" height="8.40" fill="#ffffff" stroke="#2a2a2a" stroke-width="0.8"/>
<rect x="178.20" y="272.10" width="10.79" height="8.40" fill="#ffffff" stroke="#2a2a2a" stroke-width="0.8"/>
<rect x="188.99" y="272.10" width="10.79" height="8.40" fill="#1bb04e" stroke="#2a2a2a" stroke-width="0.8"/>
<rect x="199.78" y="272.10" width="10.79" height="8.40" fill="#ffffff" stroke="#2a2a2a" stroke-width="0.8"/>
<rect x="210.57" y="272.10" width="10.79" height="8.40" fill="#1bb04e" stroke="#2a2a2a" stroke-width="0.8"/>
<rect x="221.36" y="272.10" width="10.79" height="8.40" fill="#ffffff" stroke="#2a2a2a" stroke-width="0.8"/>
<rect x="232.15" y="272.10" width="10.79" height="8.40" fill="#ffffff" stroke="#2a2a2a" stroke-width="0.8"/>
<rect x="242.94" y="272.10" width="10.79" height="8.40" fill="#ffffff" stroke="#2a2a2a" stroke-width="0.8"/>
<rect x="253.73" y="272.10" width="10.79" height="8.40" fill="#ffffff" stroke="#2a2a2a" stroke-width="0.8"/>
<rect x="264.52" y="272.10" width="10.79" height="8.40" fill="#1bb04e" stroke="#2a2a2a" stroke-width="0.8"/>
<rect x="275.31" y="272.10" width="10.79" height="8.40" fill="#ffffff" stroke="#2a2a2a" stroke-width="0.8"/>
<rect x="286.10" y="272.10" width="10.79" height="8.40" fill="#ffffff" stroke="#2a2a2a" stroke-width="0.8"/>
<rect x="296.89" y="272.10" width="10.79" height="8.40" fill="#ffffff" stroke="#2a2a2a" stroke-width="0.8"/>
<rect x="307.68" y="272.10" width="10.79" height="8.40" fill="#ffffff" stroke="#2a2a2a" stroke-width="0.8"/>
<rect x="318.47" y="272.10" width="10.79" height="8.40" fill="#ffffff" stroke="#2a2a2a" stroke-width="0.8"/>
<rect x="329.26" y="272.10" width="10.79" height="8.40" fill="#ffffff" stroke="#2a2a2a" stroke-width="0.8"/>
<rect x="340.05" y="272.10" width="10.79" height="8.40" fill="#ffffff" stroke="#2a2a2a" stroke-width="0.8"/>
<rect x="350.84" y="272.10" width="10.79" height="8.40" fill="#ffffff" stroke="#2a2a2a" stroke-width="0.8"/>
<rect x="361.63" y="272.10" width="10.79" height="8.40" fill="#ffffff" stroke="#2a2a2a" stroke-width="0.8"/>
<rect x="372.42" y="272.10" width="10.79" height="8.40" fill="#1bb04e" stroke="#2a2a2a" stroke-width="0.8"/>
<rect x="383.21" y="272.10" width="10.79" height="8.40" fill="#ffffff" stroke="#2a2a2a" stroke-width="0.8"/>
<rect x="394.00" y="272.10" width="10.79" height="8.40" fill="#ffffff" stroke="#2a2a2a" stroke-width="0.8"/>
<rect x="404.79" y="272.10" width="10.79" height="8.40" fill="#1bb04e" stroke="#2a2a2a" stroke-width="0.8"/>
<rect x="415.58" y="272.10" width="10.79" height="8.40" fill="#ffffff" stroke="#2a2a2a" stroke-width="0.8"/>
<rect x="426.37" y="272.10" width="10.79" height="8.40" fill="#ffffff" stroke="#2a2a2a" stroke-width="0.8"/>
<rect x="437.16" y="272.10" width="10.79" height="8.40" fill="#ffffff" stroke="#2a2a2a" stroke-width="0.8"/>
<rect x="447.95" y="272.10" width="10.79" height="8.40" fill="#1bb04e" stroke="#2a2a2a" stroke-width="0.8"/>
<rect x="458.74" y="272.10" width="10.79" height="8.40" fill="#ffffff" stroke="#2a2a2a" stroke-width="0.8"/>
<rect x="469.53" y="272.10" width="10.79" height="8.40" fill="#ffffff" stroke="#2a2a2a" stroke-width="0.8"/>
<text x="67.00" y="279.05" font-size="7.7" text-anchor="end" font-weight="normal" font-style="normal" fill="#231f20">Survival &gt; 24 m</text>
<rect x="70.30" y="280.50" width="10.79" height="8.30" fill="#ffffff" stroke="#2a2a2a" stroke-width="0.8"/>
<rect x="81.09" y="280.50" width="10.79" height="8.30" fill="#ffffff" stroke="#2a2a2a" stroke-width="0.8"/>
<rect x="91.88" y="280.50" width="10.79" height="8.30" fill="#ffffff" stroke="#2a2a2a" stroke-width="0.8"/>
<rect x="102.67" y="280.50" width="10.79" height="8.30" fill="#231f20" stroke="#2a2a2a" stroke-width="0.8"/>
<rect x="113.46" y="280.50" width="10.79" height="8.30" fill="#231f20" stroke="#2a2a2a" stroke-width="0.8"/>
<rect x="124.25" y="280.50" width="10.79" height="8.30" fill="#231f20" stroke="#2a2a2a" stroke-width="0.8"/>
<rect x="135.04" y="280.50" width="10.79" height="8.30" fill="#231f20" stroke="#2a2a2a" stroke-width="0.8"/>
<rect x="145.83" y="280.50" width="10.79" height="8.30" fill="#ffffff" stroke="#2a2a2a" stroke-width="0.8"/>
<rect x="156.62" y="280.50" width="10.79" height="8.30" fill="#ffffff" stroke="#2a2a2a" stroke-width="0.8"/>
<rect x="167.41" y="280.50" width="10.79" height="8.30" fill="#231f20" stroke="#2a2a2a" stroke-width="0.8"/>
<rect x="178.20" y="280.50" width="10.79" height="8.30" fill="#231f20" stroke="#2a2a2a" stroke-width="0.8"/>
<rect x="188.99" y="280.50" width="10.79" height="8.30" fill="#ffffff" stroke="#2a2a2a" stroke-width="0.8"/>
<rect x="199.78" y="280.50" width="10.79" height="8.30" fill="#231f20" stroke="#2a2a2a" stroke-width="0.8"/>
<rect x="210.57" y="280.50" width="10.79" height="8.30" fill="#ffffff" stroke="#2a2a2a" stroke-width="0.8"/>
<rect x="221.36" y="280.50" width="10.79" height="8.30" fill="#ffffff" stroke="#2a2a2a" stroke-width="0.8"/>
<rect x="232.15" y="280.50" width="10.79" height="8.30" fill="#231f20" stroke="#2a2a2a" stroke-width="0.8"/>
<rect x="242.94" y="280.50" width="10.79" height="8.30" fill="#ffffff" stroke="#2a2a2a" stroke-width="0.8"/>
<rect x="253.73" y="280.50" width="10.79" height="8.30" fill="#ffffff" stroke="#2a2a2a" stroke-width="0.8"/>
<rect x="264.52" y="280.50" width="10.79" height="8.30" fill="#231f20" stroke="#2a2a2a" stroke-width="0.8"/>
<rect x="275.31" y="280.50" width="10.79" height="8.30" fill="#231f20" stroke="#2a2a2a" stroke-width="0.8"/>
<rect x="286.10" y="280.50" width="10.79" height="8.30" fill="#231f20" stroke="#2a2a2a" stroke-width="0.8"/>
<rect x="296.89" y="280.50" width="10.79" height="8.30" fill="#231f20" stroke="#2a2a2a" stroke-width="0.8"/>
<rect x="307.68" y="280.50" width="10.79" height="8.30" fill="#ffffff" stroke="#2a2a2a" stroke-width="0.8"/>
<rect x="318.47" y="280.50" width="10.79" height="8.30" fill="#231f20" stroke="#2a2a2a" stroke-width="0.8"/>
<rect x="329.26" y="280.50" width="10.79" height="8.30" fill="#ffffff" stroke="#2a2a2a" stroke-width="0.8"/>
<rect x="340.05" y="280.50" width="10.79" height="8.30" fill="#231f20" stroke="#2a2a2a" stroke-width="0.8"/>
<rect x="350.84" y="280.50" width="10.79" height="8.30" fill="#231f20" stroke="#2a2a2a" stroke-width="0.8"/>
<rect x="361.63" y="280.50" width="10.79" height="8.30" fill="#ffffff" stroke="#2a2a2a" stroke-width="0.8"/>
<rect x="372.42" y="280.50" width="10.79" height="8.30" fill="#231f20" stroke="#2a2a2a" stroke-width="0.8"/>
<rect x="383.21" y="280.50" width="10.79" height="8.30" fill="#231f20" stroke="#2a2a2a" stroke-width="0.8"/>
<rect x="394.00" y="280.50" width="10.79" height="8.30" fill="#231f20" stroke="#2a2a2a" stroke-width="0.8"/>
<rect x="404.79" y="280.50" width="10.79" height="8.30" fill="#ffffff" stroke="#2a2a2a" stroke-width="0.8"/>
<rect x="415.58" y="280.50" width="10.79" height="8.30" fill="#231f20" stroke="#2a2a2a" stroke-width="0.8"/>
<rect x="426.37" y="280.50" width="10.79" height="8.30" fill="#ffffff" stroke="#2a2a2a" stroke-width="0.8"/>
<rect x="437.16" y="280.50" width="10.79" height="8.30" fill="#ffffff" stroke="#2a2a2a" stroke-width="0.8"/>
<rect x="447.95" y="280.50" width="10.79" height="8.30" fill="#231f20" stroke="#2a2a2a" stroke-width="0.8"/>
<rect x="458.74" y="280.50" width="10.79" height="8.30" fill="#231f20" stroke="#2a2a2a" stroke-width="0.8"/>
<rect x="469.53" y="280.50" width="10.79" height="8.30" fill="#231f20" stroke="#2a2a2a" stroke-width="0.8"/>
<text x="67.00" y="287.40" font-size="7.7" text-anchor="end" font-weight="normal" font-style="normal" fill="#231f20">Dead</text>
<text x="67.00" y="298.75" font-size="7.7" text-anchor="end" font-weight="normal" font-style="normal" fill="#231f20">Patient ID</text>
<text x="75.69" y="298.70" font-size="3.9" text-anchor="middle" font-weight="normal" font-style="normal" fill="#2a2a2a" style="stroke-width:0.12px">P4</text>
<text x="86.48" y="298.70" font-size="3.9" text-anchor="middle" font-weight="normal" font-style="normal" fill="#2a2a2a" style="stroke-width:0.12px">P38</text>
<text x="97.27" y="298.70" font-size="3.9" text-anchor="middle" font-weight="normal" font-style="normal" fill="#2a2a2a" style="stroke-width:0.12px">P34</text>
<text x="108.06" y="298.70" font-size="3.9" text-anchor="middle" font-weight="normal" font-style="normal" fill="#2a2a2a" style="stroke-width:0.12px">P22</text>
<text x="118.85" y="298.70" font-size="3.9" text-anchor="middle" font-weight="normal" font-style="normal" fill="#2a2a2a" style="stroke-width:0.12px">P8</text>
<text x="129.64" y="298.70" font-size="3.9" text-anchor="middle" font-weight="normal" font-style="normal" fill="#2a2a2a" style="stroke-width:0.12px">P1</text>
<text x="140.44" y="298.70" font-size="3.9" text-anchor="middle" font-weight="normal" font-style="normal" fill="#2a2a2a" style="stroke-width:0.12px">P31</text>
<text x="151.22" y="298.70" font-size="3.9" text-anchor="middle" font-weight="normal" font-style="normal" fill="#2a2a2a" style="stroke-width:0.12px">P17</text>
<text x="162.01" y="298.70" font-size="3.9" text-anchor="middle" font-weight="normal" font-style="normal" fill="#2a2a2a" style="stroke-width:0.12px">P23</text>
<text x="172.81" y="298.70" font-size="3.9" text-anchor="middle" font-weight="normal" font-style="normal" fill="#2a2a2a" style="stroke-width:0.12px">P9</text>
<text x="183.59" y="298.70" font-size="3.9" text-anchor="middle" font-weight="normal" font-style="normal" fill="#2a2a2a" style="stroke-width:0.12px">P29</text>
<text x="194.38" y="298.70" font-size="3.9" text-anchor="middle" font-weight="normal" font-style="normal" fill="#2a2a2a" style="stroke-width:0.12px">P3</text>
<text x="205.18" y="298.70" font-size="3.9" text-anchor="middle" font-weight="normal" font-style="normal" fill="#2a2a2a" style="stroke-width:0.12px">P30</text>
<text x="215.96" y="298.70" font-size="3.9" text-anchor="middle" font-weight="normal" font-style="normal" fill="#2a2a2a" style="stroke-width:0.12px">P11</text>
<text x="226.75" y="298.70" font-size="3.9" text-anchor="middle" font-weight="normal" font-style="normal" fill="#2a2a2a" style="stroke-width:0.12px">P35</text>
<text x="237.54" y="298.70" font-size="3.9" text-anchor="middle" font-weight="normal" font-style="normal" fill="#2a2a2a" style="stroke-width:0.12px">P25</text>
<text x="248.33" y="298.70" font-size="3.9" text-anchor="middle" font-weight="normal" font-style="normal" fill="#2a2a2a" style="stroke-width:0.12px">P21</text>
<text x="259.12" y="298.70" font-size="3.9" text-anchor="middle" font-weight="normal" font-style="normal" fill="#2a2a2a" style="stroke-width:0.12px">P24</text>
<text x="269.91" y="298.70" font-size="3.9" text-anchor="middle" font-weight="normal" font-style="normal" fill="#2a2a2a" style="stroke-width:0.12px">P5</text>
<text x="280.70" y="298.70" font-size="3.9" text-anchor="middle" font-weight="normal" font-style="normal" fill="#2a2a2a" style="stroke-width:0.12px">P16</text>
<text x="291.50" y="298.70" font-size="3.9" text-anchor="middle" font-weight="normal" font-style="normal" fill="#2a2a2a" style="stroke-width:0.12px">P26</text>
<text x="302.28" y="298.70" font-size="3.9" text-anchor="middle" font-weight="normal" font-style="normal" fill="#2a2a2a" style="stroke-width:0.12px">P27</text>
<text x="313.07" y="298.70" font-size="3.9" text-anchor="middle" font-weight="normal" font-style="normal" fill="#2a2a2a" style="stroke-width:0.12px">P14</text>
<text x="323.86" y="298.70" font-size="3.9" text-anchor="middle" font-weight="normal" font-style="normal" fill="#2a2a2a" style="stroke-width:0.12px">P37</text>
<text x="334.65" y="298.70" font-size="3.9" text-anchor="middle" font-weight="normal" font-style="normal" fill="#2a2a2a" style="stroke-width:0.12px">P19</text>
<text x="345.44" y="298.70" font-size="3.9" text-anchor="middle" font-weight="normal" font-style="normal" fill="#2a2a2a" style="stroke-width:0.12px">P12</text>
<text x="356.24" y="298.70" font-size="3.9" text-anchor="middle" font-weight="normal" font-style="normal" fill="#2a2a2a" style="stroke-width:0.12px">P13</text>
<text x="367.02" y="298.70" font-size="3.9" text-anchor="middle" font-weight="normal" font-style="normal" fill="#2a2a2a" style="stroke-width:0.12px">P33</text>
<text x="377.81" y="298.70" font-size="3.9" text-anchor="middle" font-weight="normal" font-style="normal" fill="#2a2a2a" style="stroke-width:0.12px">P2</text>
<text x="388.60" y="298.70" font-size="3.9" text-anchor="middle" font-weight="normal" font-style="normal" fill="#2a2a2a" style="stroke-width:0.12px">P6</text>
<text x="399.39" y="298.70" font-size="3.9" text-anchor="middle" font-weight="normal" font-style="normal" fill="#2a2a2a" style="stroke-width:0.12px">P7</text>
<text x="410.19" y="298.70" font-size="3.9" text-anchor="middle" font-weight="normal" font-style="normal" fill="#2a2a2a" style="stroke-width:0.12px">P32</text>
<text x="420.97" y="298.70" font-size="3.9" text-anchor="middle" font-weight="normal" font-style="normal" fill="#2a2a2a" style="stroke-width:0.12px">P15</text>
<text x="431.76" y="298.70" font-size="3.9" text-anchor="middle" font-weight="normal" font-style="normal" fill="#2a2a2a" style="stroke-width:0.12px">P28</text>
<text x="442.56" y="298.70" font-size="3.9" text-anchor="middle" font-weight="normal" font-style="normal" fill="#2a2a2a" style="stroke-width:0.12px">P20</text>
<text x="453.34" y="298.70" font-size="3.9" text-anchor="middle" font-weight="normal" font-style="normal" fill="#2a2a2a" style="stroke-width:0.12px">P10</text>
<text x="464.13" y="298.70" font-size="3.9" text-anchor="middle" font-weight="normal" font-style="normal" fill="#2a2a2a" style="stroke-width:0.12px">P18</text>
<text x="474.92" y="298.70" font-size="3.9" text-anchor="middle" font-weight="normal" font-style="normal" fill="#2a2a2a" style="stroke-width:0.12px">P36</text>
<text x="8.30" y="332.80" font-size="7.7" text-anchor="start" font-weight="bold" font-style="normal" fill="#231f20">Sex</text>
<rect x="8.40" y="343.85" width="5.8" height="5.8" fill="#e8b868"/>
<text x="18.10" y="349.00" font-size="7.7" text-anchor="start" font-weight="normal" font-style="normal" fill="#231f20">Female</text>
<rect x="8.40" y="356.25" width="5.8" height="5.8" fill="#dcdde2"/>
<text x="18.10" y="361.40" font-size="7.7" text-anchor="start" font-weight="normal" font-style="normal" fill="#231f20">Male</text>
<text x="47.50" y="332.80" font-size="7.7" text-anchor="start" font-weight="bold" font-style="normal" fill="#231f20">Syndrome</text>
<rect x="47.40" y="343.85" width="5.8" height="5.8" fill="#3b6cc5"/>
<text x="57.10" y="349.00" font-size="7.7" text-anchor="start" font-weight="normal" font-style="normal" fill="#231f20">CMMRD</text>
<rect x="47.40" y="356.25" width="5.8" height="5.8" fill="#c592d4"/>
<text x="57.10" y="361.40" font-size="7.7" text-anchor="start" font-weight="normal" font-style="normal" fill="#231f20">Lynch</text>
<rect x="47.40" y="368.35" width="5.8" height="5.8" fill="#ef7e22"/>
<text x="57.10" y="373.50" font-size="7.7" text-anchor="start" font-weight="normal" font-style="normal" fill="#231f20">PPAP</text>
<text x="94.50" y="332.80" font-size="7.7" text-anchor="start" font-weight="bold" font-style="normal" fill="#231f20">Gene</text>
<rect x="94.10" y="343.85" width="5.8" height="5.8" fill="#97b4ea"/>
<text x="103.80" y="349.00" font-size="7.7" text-anchor="start" font-weight="normal" font-style="italic" fill="#231f20">PMS2</text>
<rect x="94.10" y="356.05" width="5.8" height="5.8" fill="#c863b6"/>
<text x="103.80" y="361.20" font-size="7.7" text-anchor="start" font-weight="normal" font-style="italic" fill="#231f20">MSH6</text>
<rect x="94.10" y="368.25" width="5.8" height="5.8" fill="#2c5a9c"/>
<text x="103.80" y="373.40" font-size="7.7" text-anchor="start" font-weight="normal" font-style="italic" fill="#231f20">MSH2</text>
<rect x="94.10" y="380.45" width="5.8" height="5.8" fill="#6f44a8"/>
<text x="103.80" y="385.60" font-size="7.7" text-anchor="start" font-weight="normal" font-style="italic" fill="#231f20">MLH1</text>
<rect x="94.10" y="392.65" width="5.8" height="5.8" fill="#ef7e22"/>
<text x="103.80" y="397.80" font-size="7.7" text-anchor="start" font-weight="normal" font-style="italic" fill="#231f20">POLE</text>
<text x="135.50" y="332.80" font-size="7.7" text-anchor="start" font-weight="bold" font-style="normal" fill="#231f20">Grade</text>
<rect x="133.40" y="343.85" width="5.8" height="5.8" fill="#676767"/>
<text x="143.10" y="349.00" font-size="7.7" text-anchor="start" font-weight="normal" font-style="normal" fill="#231f20">Grade 4</text>
<rect x="133.40" y="356.25" width="5.8" height="5.8" fill="#b9b9b9"/>
<text x="143.10" y="361.40" font-size="7.7" text-anchor="start" font-weight="normal" font-style="normal" fill="#231f20">Grade 3</text>
<text x="178.20" y="323.60" font-size="7.7" text-anchor="start" font-weight="bold" font-style="normal" fill="#231f20">Somatic</text>
<text x="178.20" y="332.80" font-size="7.7" text-anchor="start" font-weight="bold" font-style="normal" fill="#231f20">variants</text>
<rect x="176.60" y="343.85" width="5.8" height="5.8" fill="#f6b183"/>
<text x="186.30" y="349.00" font-size="7.7" text-anchor="start" font-weight="normal" font-style="italic" fill="#231f20">POLE/POLD1</text>
<rect x="176.60" y="356.25" width="5.8" height="5.8" fill="#6b2b2b"/>
<text x="186.30" y="361.40" font-size="7.7" text-anchor="start" font-weight="normal" font-style="normal" fill="#231f20">RAS-MAPK</text>
<text x="186.30" y="369.70" font-size="7.7" text-anchor="start" font-weight="normal" font-style="normal" fill="#231f20">variants</text>
<text x="242.00" y="323.60" font-size="7.7" text-anchor="start" font-weight="bold" font-style="normal" fill="#231f20">Prior</text>
<text x="242.00" y="332.80" font-size="7.7" text-anchor="start" font-weight="bold" font-style="normal" fill="#231f20">treatment</text>
<rect x="239.90" y="343.85" width="5.8" height="5.8" fill="#a9d18e"/>
<text x="249.60" y="349.00" font-size="7.7" text-anchor="start" font-weight="normal" font-style="normal" fill="#231f20">Nivolumab</text>
<rect x="239.90" y="356.25" width="5.8" height="5.8" fill="#2f4f1f"/>
<text x="249.60" y="361.40" font-size="7.7" text-anchor="start" font-weight="normal" font-style="normal" fill="#231f20">Pembrolizumab</text>
<text x="307.00" y="323.60" font-size="7.7" text-anchor="start" font-weight="bold" font-style="normal" fill="#231f20">Relapse</text>
<text x="307.00" y="332.80" font-size="7.7" text-anchor="start" font-weight="bold" font-style="normal" fill="#231f20">pattern</text>
<rect x="306.60" y="343.85" width="5.8" height="5.8" fill="#f8cb45"/>
<text x="316.30" y="349.00" font-size="7.7" text-anchor="start" font-weight="normal" font-style="normal" fill="#231f20">Local</text>
<rect x="306.60" y="356.25" width="5.8" height="5.8" fill="#d45420"/>
<text x="316.30" y="361.40" font-size="7.7" text-anchor="start" font-weight="normal" font-style="normal" fill="#231f20">Distant</text>
<rect x="306.60" y="368.35" width="5.8" height="5.8" fill="#7b5a20"/>
<text x="316.30" y="373.50" font-size="7.7" text-anchor="start" font-weight="normal" font-style="normal" fill="#231f20">Combined</text>
<text x="360.60" y="323.80" font-size="7.7" text-anchor="start" font-weight="bold" font-style="normal" fill="#231f20">Postprogression</text>
<text x="360.60" y="333.10" font-size="7.7" text-anchor="start" font-weight="bold" font-style="normal" fill="#231f20">treatment</text>
<rect x="359.60" y="343.85" width="5.8" height="5.8" fill="#1a2b68"/>
<text x="369.30" y="349.00" font-size="7.7" text-anchor="start" font-weight="normal" font-style="normal" fill="#231f20">Reirradiation</text>
<rect x="359.60" y="355.95" width="5.8" height="5.8" fill="#578a3a"/>
<text x="369.30" y="361.10" font-size="7.7" text-anchor="start" font-weight="normal" font-style="normal" fill="#231f20">Nivolumab + ipilimumab</text>
<rect x="359.60" y="368.05" width="5.8" height="5.8" fill="#2a78cc"/>
<text x="369.30" y="373.20" font-size="7.7" text-anchor="start" font-weight="normal" font-style="normal" fill="#231f20">Nivolumab + trametinib</text>
<rect x="359.60" y="380.05" width="5.8" height="5.8" fill="#d3e16b"/>
<text x="369.30" y="385.20" font-size="7.7" text-anchor="start" font-weight="normal" font-style="normal" fill="#231f20">Nivolumab</text>
<text x="457.30" y="333.10" font-size="7.7" text-anchor="start" font-weight="bold" font-style="normal" fill="#231f20">Outcome</text>
<rect x="457.40" y="343.85" width="5.8" height="5.8" fill="#1bb04e"/>
<text x="467.10" y="349.00" font-size="7.7" text-anchor="start" font-weight="normal" font-style="normal" fill="#231f20">Survival &gt; 24 m</text>
<text x="467.10" y="357.80" font-size="7.7" text-anchor="start" font-weight="normal" font-style="normal" fill="#231f20">from diagnosis</text>
<rect x="457.40" y="368.05" width="5.8" height="5.8" fill="#231f20"/>
<text x="467.10" y="373.20" font-size="7.7" text-anchor="start" font-weight="normal" font-style="normal" fill="#231f20">Dead</text>
<text x="460.10" y="393.00" font-size="6.5" text-anchor="middle" font-weight="normal" font-style="normal" fill="#231f20">x</text>
<text x="467.10" y="393.20" font-size="7.7" text-anchor="start" font-weight="normal" font-style="normal" fill="#231f20">No data</text>
<text x="25.90" y="421.60" font-size="9.8" text-anchor="start" font-weight="bold" font-style="normal" fill="#231f20">B</text>
<path d="M73.6,416.2 V567.6 H238.2" fill="none" stroke="#505050" stroke-width="1"/>
<path d="M69.4,423.00 H73.6" stroke="#505050" stroke-width="0.9"/>
<text x="66.30" y="425.55" font-size="7.2" text-anchor="end" font-weight="normal" font-style="normal" fill="#231f20">1.00</text>
<path d="M69.4,457.50 H73.6" stroke="#505050" stroke-width="0.9"/>
<text x="66.30" y="460.05" font-size="7.2" text-anchor="end" font-weight="normal" font-style="normal" fill="#231f20">0.75</text>
<path d="M69.4,492.00 H73.6" stroke="#505050" stroke-width="0.9"/>
<text x="66.30" y="494.55" font-size="7.2" text-anchor="end" font-weight="normal" font-style="normal" fill="#231f20">0.50</text>
<path d="M69.4,526.50 H73.6" stroke="#505050" stroke-width="0.9"/>
<text x="66.30" y="529.05" font-size="7.2" text-anchor="end" font-weight="normal" font-style="normal" fill="#231f20">0.25</text>
<path d="M69.4,561.00 H73.6" stroke="#505050" stroke-width="0.9"/>
<text x="66.30" y="563.55" font-size="7.2" text-anchor="end" font-weight="normal" font-style="normal" fill="#231f20">0.00</text>
<path d="M80.75,567.6 V571.6" stroke="#505050" stroke-width="0.9"/>
<text x="80.75" y="580.15" font-size="7.2" text-anchor="middle" font-weight="normal" font-style="normal" fill="#231f20">0</text>
<path d="M105.83,567.6 V571.6" stroke="#505050" stroke-width="0.9"/>
<text x="105.83" y="580.15" font-size="7.2" text-anchor="middle" font-weight="normal" font-style="normal" fill="#231f20">6</text>
<path d="M130.91,567.6 V571.6" stroke="#505050" stroke-width="0.9"/>
<text x="130.91" y="580.15" font-size="7.2" text-anchor="middle" font-weight="normal" font-style="normal" fill="#231f20">12</text>
<path d="M155.99,567.6 V571.6" stroke="#505050" stroke-width="0.9"/>
<text x="155.99" y="580.15" font-size="7.2" text-anchor="middle" font-weight="normal" font-style="normal" fill="#231f20">18</text>
<path d="M181.07,567.6 V571.6" stroke="#505050" stroke-width="0.9"/>
<text x="181.07" y="580.15" font-size="7.2" text-anchor="middle" font-weight="normal" font-style="normal" fill="#231f20">24</text>
<path d="M206.15,567.6 V571.6" stroke="#505050" stroke-width="0.9"/>
<text x="206.15" y="580.15" font-size="7.2" text-anchor="middle" font-weight="normal" font-style="normal" fill="#231f20">30</text>
<path d="M231.23,567.6 V571.6" stroke="#505050" stroke-width="0.9"/>
<text x="231.23" y="580.15" font-size="7.2" text-anchor="middle" font-weight="normal" font-style="normal" fill="#231f20">36</text>
<text x="156.00" y="589.80" font-size="7.4" text-anchor="middle" font-weight="bold" font-style="normal" fill="#231f20">Months</text>
<text transform="translate(43.0,491.75) rotate(-90)" font-size="7.65" font-weight="bold" text-anchor="middle" fill="#231f20">Survival probability</text>
<path d="M81.00,423.00 H87.50 V430.70 H88.80 V440.80 H128.50 V454.80 H129.30 V467.20 H131.40 V494.40 H145.70 V510.80 H238.50 V510.80" fill="none" stroke="#e6b32c" stroke-width="1.3"/>
<path d="M81.00,423.00 H87.50 V430.60 H90.40 V438.40 H93.20 V456.00 H101.30 V466.60 H105.80 V477.00 H115.10 V489.30 H123.60 V512.80 H131.80 V524.60 H138.50 V537.00 H139.50 V549.10 H218.60 V560.50" fill="none" stroke="#3b95d2" stroke-width="1.3"/>
<path d="M109.4,439.0 V442.6" stroke="#e6b32c" stroke-width="0.8"/>
<path d="M97.4,454.2 V457.8" stroke="#3b95d2" stroke-width="0.8"/>
<path d="M109.3,475.2 V478.8" stroke="#3b95d2" stroke-width="0.8"/>
<text x="183.80" y="495.70" font-size="7.6" text-anchor="middle" font-weight="normal" font-style="normal" fill="#231f20">TMB &gt; median</text>
<text x="183.80" y="505.70" font-size="7.6" text-anchor="middle" font-weight="normal" font-style="normal" fill="#231f20">(<tspan font-style="italic">n</tspan> = 18)</text>
<text x="183.80" y="535.70" font-size="7.6" text-anchor="middle" font-weight="normal" font-style="normal" fill="#231f20">TMB ≤ median</text>
<text x="183.80" y="545.20" font-size="7.6" text-anchor="middle" font-weight="normal" font-style="normal" fill="#231f20">(<tspan font-style="italic">n</tspan> = 18)</text>
<text x="85.50" y="536.50" font-size="7.6" text-anchor="start" font-weight="normal" font-style="normal" fill="#231f20"><tspan font-style="italic">P</tspan> = 0.038</text>
<text x="256.80" y="420.60" font-size="9.8" text-anchor="start" font-weight="bold" font-style="normal" fill="#231f20">C</text>
<path d="M304.9,420.8 V567.3 H474.6" fill="none" stroke="#505050" stroke-width="1.1"/>
<path d="M300.6,427.00 H304.9" stroke="#505050" stroke-width="0.9"/>
<text x="296.80" y="429.55" font-size="7.2" text-anchor="end" font-weight="normal" font-style="normal" fill="#231f20">1.00</text>
<path d="M300.6,460.40 H304.9" stroke="#505050" stroke-width="0.9"/>
<text x="296.80" y="462.95" font-size="7.2" text-anchor="end" font-weight="normal" font-style="normal" fill="#231f20">0.75</text>
<path d="M300.6,493.80 H304.9" stroke="#505050" stroke-width="0.9"/>
<text x="296.80" y="496.35" font-size="7.2" text-anchor="end" font-weight="normal" font-style="normal" fill="#231f20">0.50</text>
<path d="M300.6,527.20 H304.9" stroke="#505050" stroke-width="0.9"/>
<text x="296.80" y="529.75" font-size="7.2" text-anchor="end" font-weight="normal" font-style="normal" fill="#231f20">0.25</text>
<path d="M300.6,560.60 H304.9" stroke="#505050" stroke-width="0.9"/>
<text x="296.80" y="563.15" font-size="7.2" text-anchor="end" font-weight="normal" font-style="normal" fill="#231f20">0.00</text>
<path d="M312.60,567.3 V571.4" stroke="#505050" stroke-width="0.9"/>
<text x="312.60" y="580.15" font-size="7.2" text-anchor="middle" font-weight="normal" font-style="normal" fill="#231f20">0</text>
<path d="M351.25,567.3 V571.4" stroke="#505050" stroke-width="0.9"/>
<text x="351.25" y="580.15" font-size="7.2" text-anchor="middle" font-weight="normal" font-style="normal" fill="#231f20">6</text>
<path d="M389.90,567.3 V571.4" stroke="#505050" stroke-width="0.9"/>
<text x="389.90" y="580.15" font-size="7.2" text-anchor="middle" font-weight="normal" font-style="normal" fill="#231f20">12</text>
<path d="M428.55,567.3 V571.4" stroke="#505050" stroke-width="0.9"/>
<text x="428.55" y="580.15" font-size="7.2" text-anchor="middle" font-weight="normal" font-style="normal" fill="#231f20">18</text>
<path d="M467.20,567.3 V571.4" stroke="#505050" stroke-width="0.9"/>
<text x="467.20" y="580.15" font-size="7.2" text-anchor="middle" font-weight="normal" font-style="normal" fill="#231f20">24</text>
<text x="392.30" y="589.80" font-size="7.4" text-anchor="middle" font-weight="bold" font-style="normal" fill="#231f20">Months</text>
<text transform="translate(275.0,493.6) rotate(-90)" font-size="7.65" font-weight="bold" text-anchor="middle" fill="#231f20">Survival probability</text>
<path d="M312.50,427.00 H322.50 V436.80 H325.20 V447.60 H331.90 V459.20 H386.30 V474.00 H391.80 V487.90 H401.70 V502.60 H402.30 V516.80 H460.50 V516.80" fill="none" stroke="#3b95d2" stroke-width="1.3"/>
<path d="M312.50,427.00 H322.50 V436.80 H331.20 V447.60 H344.70 V459.30 H365.60 V474.50 H378.70 V489.00 H379.50 V503.70 H387.40 V523.00 H390.30 V541.60 H412.70 V560.30" fill="none" stroke="#e6b32c" stroke-width="1.3"/>
<path d="M317.8,425.2 V428.8" stroke="#e6b32c" stroke-width="0.8"/>
<path d="M350.8,457.5 V461.1" stroke="#e6b32c" stroke-width="0.8"/>
<path d="M356.0,457.5 V461.1" stroke="#e6b32c" stroke-width="0.8"/>
<path d="M416.0,515.0 V518.5999999999999" stroke="#3b95d2" stroke-width="0.8"/>
<path d="M404.8,515.0 V518.5999999999999" stroke="#3b95d2" stroke-width="0.8"/>
<path d="M460.3,515.0 V518.5999999999999" stroke="#3b95d2" stroke-width="0.8"/>
<text x="399.30" y="444.20" font-size="7.6" text-anchor="middle" font-weight="normal" font-style="normal" fill="#231f20">MMRDness &gt; median</text>
<text x="399.60" y="453.20" font-size="7.6" text-anchor="middle" font-weight="normal" font-style="normal" fill="#231f20">(<tspan font-style="italic">n</tspan> = 14)</text>
<text x="396.50" y="537.70" font-size="7.6" text-anchor="start" font-weight="normal" font-style="normal" fill="#231f20">MMRDness ≤ median</text>
<text x="433.70" y="546.30" font-size="7.6" text-anchor="middle" font-weight="normal" font-style="normal" fill="#231f20">(<tspan font-style="italic">n</tspan> = 17)</text>
<text x="315.30" y="537.70" font-size="7.6" text-anchor="start" font-weight="normal" font-style="normal" fill="#231f20"><tspan font-style="italic">P</tspan> = 0.14</text>
</svg>
</body></html>
